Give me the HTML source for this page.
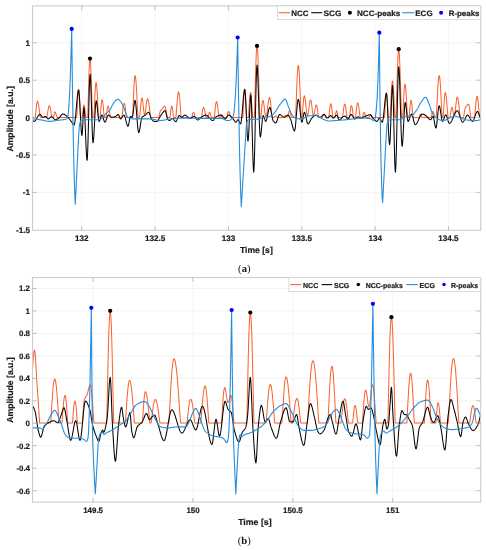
<!DOCTYPE html>
<html><head><meta charset="utf-8"><title>NCC SCG ECG</title>
<style>
html,body{margin:0;padding:0;background:#fff;}
body{width:486px;height:550px;overflow:hidden;}
svg{display:block}
.g{stroke:#f1f1f1;stroke-width:0.7}
.ax{stroke:#cdcdcd;stroke-width:1.1}
.tk{stroke:#a8a8a8;stroke-width:0.7}
.t{font-family:"Liberation Sans",sans-serif;font-weight:bold;font-size:7.3px;fill:#1c1c1c;text-rendering:geometricPrecision;stroke:#1c1c1c;stroke-width:0.2px}
.cap{font-family:"Liberation Serif",serif;font-size:9.5px;fill:#111;text-rendering:geometricPrecision}
</style></head><body>
<svg width="486" height="550" viewBox="0 0 486 550">
<rect width="486" height="550" fill="#fff"/>
<clipPath id="c1"><rect x="32.5" y="5.85" width="448.2" height="224.45000000000002"/></clipPath>
<line x1="81.7" y1="5.85" x2="81.7" y2="230.3" class="g"/>
<line x1="155.06" y1="5.85" x2="155.06" y2="230.3" class="g"/>
<line x1="228.42000000000002" y1="5.85" x2="228.42000000000002" y2="230.3" class="g"/>
<line x1="301.78" y1="5.85" x2="301.78" y2="230.3" class="g"/>
<line x1="375.14" y1="5.85" x2="375.14" y2="230.3" class="g"/>
<line x1="448.5" y1="5.85" x2="448.5" y2="230.3" class="g"/>
<line x1="32.5" y1="42.8" x2="480.7" y2="42.8" class="g"/>
<line x1="32.5" y1="80.2" x2="480.7" y2="80.2" class="g"/>
<line x1="32.5" y1="117.6" x2="480.7" y2="117.6" class="g"/>
<line x1="32.5" y1="155" x2="480.7" y2="155" class="g"/>
<line x1="32.5" y1="192.4" x2="480.7" y2="192.4" class="g"/>
<g clip-path="url(#c1)" fill="none" stroke-linejoin="round" stroke-linecap="round">
<path d="M32.50,117.40 L35.19,117.40 L35.44,116.08 L35.68,113.76 L35.93,111.11 L36.17,108.48 L36.42,106.08 L36.66,104.07 L36.91,102.55 L37.15,101.62 L37.40,101.30 L37.63,101.45 L37.87,101.91 L38.10,102.65 L38.33,103.67 L38.57,104.94 L38.80,106.43 L39.03,108.09 L39.27,109.88 L39.50,111.73 L39.74,113.56 L39.97,115.25 L40.20,116.64 L40.44,117.40 L46.73,117.40 L46.97,116.69 L47.22,115.41 L47.46,113.89 L47.70,112.30 L47.94,110.75 L48.19,109.32 L48.43,108.08 L48.67,107.06 L48.91,106.31 L49.16,105.85 L49.40,105.70 L49.63,105.85 L49.87,106.31 L50.10,107.06 L50.34,108.08 L50.57,109.32 L50.81,110.75 L51.04,112.30 L51.27,113.89 L51.51,115.41 L51.74,116.69 L51.98,117.40 L53.44,117.40 L53.66,116.75 L53.88,115.68 L54.11,114.53 L54.33,113.50 L54.55,112.69 L54.78,112.18 L55.00,112.00 L55.22,112.11 L55.45,112.42 L55.67,112.93 L55.90,113.60 L56.12,114.41 L56.35,115.29 L56.57,116.18 L56.80,116.96 L57.02,117.40 L76.67,117.40 L76.91,114.71 L77.15,110.10 L77.39,105.00 L77.63,100.11 L77.88,95.90 L78.12,92.69 L78.36,90.68 L78.60,90.00 L78.82,90.54 L79.05,92.13 L79.27,94.71 L79.50,98.13 L79.72,102.22 L79.95,106.70 L80.17,111.20 L80.40,115.15 L80.62,117.40 L82.16,117.40 L82.39,116.18 L82.62,114.10 L82.85,111.79 L83.08,109.57 L83.31,107.67 L83.54,106.22 L83.77,105.31 L84.00,105.00 L84.23,105.31 L84.46,106.22 L84.69,107.67 L84.92,109.57 L85.15,111.79 L85.38,114.10 L85.61,116.18 L85.84,117.40 L87.61,117.40 L87.85,113.28 L88.09,105.93 L88.33,97.38 L88.56,88.61 L88.80,80.29 L89.04,72.91 L89.28,66.84 L89.52,62.32 L89.76,59.54 L90.00,58.60 L90.23,59.38 L90.47,61.68 L90.70,65.44 L90.94,70.54 L91.17,76.80 L91.41,83.98 L91.64,91.78 L91.87,99.77 L92.11,107.40 L92.34,113.83 L92.58,117.40 L93.80,117.40 L94.03,114.94 L94.26,110.57 L94.49,105.48 L94.72,100.26 L94.95,95.31 L95.18,90.92 L95.41,87.30 L95.64,84.61 L95.87,82.96 L96.10,82.40 L96.35,82.96 L96.60,84.61 L96.85,87.30 L97.09,90.92 L97.34,95.31 L97.59,100.26 L97.84,105.48 L98.09,110.57 L98.34,114.94 L98.58,117.40 L99.98,117.40 L100.22,115.94 L100.45,113.39 L100.69,110.49 L100.92,107.59 L101.16,104.95 L101.39,102.74 L101.63,101.08 L101.86,100.05 L102.10,99.70 L102.35,100.05 L102.59,101.08 L102.84,102.74 L103.08,104.95 L103.33,107.59 L103.57,110.49 L103.82,113.39 L104.06,115.94 L104.31,117.40 L105.98,117.40 L106.22,116.48 L106.45,114.87 L106.69,113.03 L106.92,111.19 L107.16,109.52 L107.39,108.12 L107.63,107.07 L107.86,106.42 L108.10,106.20 L108.35,106.38 L108.60,106.91 L108.85,107.77 L109.09,108.93 L109.34,110.33 L109.59,111.92 L109.84,113.59 L110.09,115.22 L110.34,116.61 L110.58,117.40 L121.72,117.40 L121.96,116.54 L122.19,115.00 L122.43,113.17 L122.66,111.26 L122.89,109.39 L123.13,107.66 L123.36,106.16 L123.60,104.94 L123.83,104.04 L124.07,103.49 L124.30,103.30 L124.55,103.58 L124.79,104.40 L125.04,105.72 L125.28,107.48 L125.53,109.59 L125.77,111.89 L126.02,114.21 L126.26,116.24 L126.51,117.40 L132.43,117.40 L132.67,114.86 L132.92,110.29 L133.16,104.87 L133.40,99.18 L133.64,93.64 L133.89,88.54 L134.13,84.09 L134.37,80.46 L134.61,77.79 L134.86,76.15 L135.10,75.60 L135.33,76.00 L135.57,77.17 L135.80,79.10 L136.03,81.75 L136.27,85.05 L136.50,88.91 L136.73,93.23 L136.97,97.88 L137.20,102.69 L137.44,107.43 L137.67,111.82 L137.90,115.44 L138.14,117.40 L139.52,117.40 L139.76,116.04 L140.01,113.62 L140.26,110.79 L140.51,107.90 L140.76,105.16 L141.01,102.72 L141.25,100.72 L141.50,99.23 L141.75,98.31 L142.00,98.00 L142.24,98.34 L142.47,99.33 L142.71,100.90 L142.95,102.91 L143.18,105.20 L143.42,107.60 L143.65,109.89 L143.89,111.90 L144.13,113.47 L144.36,114.46 L144.60,114.80 L144.84,114.53 L145.08,113.72 L145.32,112.44 L145.57,110.78 L145.81,108.83 L146.05,106.75 L146.29,104.67 L146.53,102.73 L146.78,101.06 L147.02,99.78 L147.26,98.97 L147.50,98.70 L147.74,98.85 L147.97,99.31 L148.21,100.05 L148.45,101.08 L148.68,102.37 L148.92,103.88 L149.16,105.60 L149.39,107.47 L149.63,109.43 L149.87,111.43 L150.10,113.38 L150.34,115.16 L150.58,116.62 L150.81,117.40 L158.70,117.40 L158.93,116.87 L159.16,115.94 L159.39,114.85 L159.62,113.73 L159.85,112.67 L160.08,111.73 L160.31,110.95 L160.54,110.37 L160.77,110.02 L161.00,109.90 L161.24,109.86 L161.48,109.74 L161.72,109.54 L161.96,109.27 L162.20,108.95 L162.44,108.59 L162.68,108.20 L162.92,107.80 L163.16,107.41 L163.40,107.05 L163.64,106.73 L163.88,106.46 L164.12,106.26 L164.36,106.14 L164.60,106.10 L164.83,106.23 L165.06,106.60 L165.29,107.21 L165.52,108.04 L165.75,109.07 L165.98,110.27 L166.21,111.59 L166.44,112.99 L166.67,114.39 L166.90,115.70 L167.13,116.80 L167.36,117.40 L169.95,117.40 L170.20,116.05 L170.45,113.79 L170.70,111.40 L170.95,109.23 L171.20,107.54 L171.45,106.47 L171.70,106.10 L171.94,106.38 L172.18,107.21 L172.42,108.53 L172.67,110.27 L172.91,112.28 L173.15,114.39 L173.39,116.29 L173.63,117.40 L175.75,117.40 L175.99,116.06 L176.22,113.60 L176.46,110.66 L176.70,107.52 L176.94,104.40 L177.17,101.43 L177.41,98.75 L177.65,96.45 L177.89,94.58 L178.12,93.22 L178.36,92.38 L178.60,92.10 L178.83,92.38 L179.06,93.22 L179.29,94.58 L179.52,96.45 L179.75,98.75 L179.98,101.43 L180.21,104.40 L180.44,107.52 L180.67,110.66 L180.90,113.60 L181.13,116.06 L181.36,117.40 L191.66,117.40 L191.89,116.90 L192.12,116.04 L192.35,115.09 L192.58,114.18 L192.81,113.40 L193.04,112.80 L193.27,112.43 L193.50,112.30 L193.74,112.43 L193.98,112.80 L194.22,113.40 L194.47,114.18 L194.71,115.09 L194.95,116.04 L195.19,116.90 L195.43,117.40 L201.38,117.40 L201.62,116.58 L201.85,115.14 L202.09,113.50 L202.32,111.86 L202.56,110.37 L202.79,109.12 L203.03,108.18 L203.26,107.60 L203.50,107.40 L203.73,107.53 L203.97,107.92 L204.20,108.56 L204.44,109.43 L204.67,110.49 L204.91,111.72 L205.14,113.04 L205.37,114.40 L205.61,115.70 L205.84,116.79 L206.08,117.40 L207.94,117.40 L208.18,116.79 L208.42,115.77 L208.65,114.69 L208.89,113.71 L209.13,112.95 L209.36,112.47 L209.60,112.30 L209.84,112.47 L210.07,112.95 L210.31,113.71 L210.55,114.69 L210.78,115.77 L211.02,116.79 L211.26,117.40 L214.20,117.40 L214.43,116.29 L214.66,114.32 L214.89,112.02 L215.12,109.66 L215.35,107.43 L215.58,105.45 L215.81,103.81 L216.04,102.60 L216.27,101.85 L216.50,101.60 L216.75,101.85 L217.00,102.60 L217.25,103.81 L217.49,105.45 L217.74,107.43 L217.99,109.66 L218.24,112.02 L218.49,114.32 L218.74,116.29 L218.98,117.40 L219.89,117.40 L220.09,116.85 L220.29,116.03 L220.50,115.28 L220.70,114.78 L220.90,114.60 L221.10,114.78 L221.30,115.28 L221.51,116.03 L221.71,116.85 L221.91,117.40 L226.58,117.40 L226.80,116.91 L227.03,116.06 L227.25,115.10 L227.48,114.13 L227.70,113.25 L227.93,112.51 L228.15,111.96 L228.38,111.62 L228.60,111.50 L228.85,111.62 L229.09,111.96 L229.34,112.51 L229.58,113.25 L229.83,114.13 L230.07,115.10 L230.32,116.06 L230.56,116.91 L230.81,117.40 L242.77,117.40 L243.01,114.66 L243.25,109.97 L243.49,104.77 L243.73,99.79 L243.98,95.51 L244.22,92.24 L244.46,90.19 L244.70,89.50 L244.92,90.05 L245.15,91.67 L245.37,94.29 L245.60,97.78 L245.82,101.94 L246.05,106.51 L246.27,111.09 L246.50,115.11 L246.72,117.40 L248.38,117.40 L248.62,115.34 L248.85,111.74 L249.09,107.64 L249.32,103.55 L249.56,99.82 L249.79,96.69 L250.03,94.35 L250.26,92.89 L250.50,92.40 L250.74,92.89 L250.97,94.35 L251.21,96.69 L251.44,99.82 L251.68,103.55 L251.91,107.64 L252.15,111.74 L252.38,115.34 L252.62,117.40 L254.24,117.40 L254.47,113.60 L254.70,106.67 L254.93,98.35 L255.16,89.48 L255.39,80.65 L255.62,72.28 L255.85,64.70 L256.08,58.18 L256.31,52.91 L256.54,49.05 L256.77,46.69 L257.00,45.90 L257.25,46.69 L257.49,49.05 L257.74,52.91 L257.98,58.18 L258.23,64.70 L258.47,72.28 L258.72,80.65 L258.96,89.48 L259.21,98.35 L259.45,106.67 L259.70,113.60 L259.94,117.40 L260.78,117.40 L261.02,115.99 L261.25,113.53 L261.49,110.72 L261.72,107.93 L261.96,105.38 L262.19,103.24 L262.43,101.63 L262.66,100.64 L262.90,100.30 L263.13,100.54 L263.36,101.23 L263.59,102.35 L263.82,103.82 L264.05,105.56 L264.28,107.47 L264.52,109.43 L264.75,111.34 L264.98,113.08 L265.21,114.55 L265.44,115.67 L265.67,116.36 L265.90,116.60 L266.14,116.39 L266.38,115.77 L266.62,114.78 L266.86,113.44 L267.10,111.83 L267.34,110.00 L267.58,108.05 L267.82,106.05 L268.06,104.10 L268.30,102.28 L268.54,100.66 L268.78,99.32 L269.02,98.33 L269.26,97.71 L269.50,97.50 L269.74,97.76 L269.99,98.54 L270.23,99.81 L270.47,101.54 L270.71,103.66 L270.96,106.09 L271.20,108.73 L271.44,111.43 L271.68,114.01 L271.93,116.19 L272.17,117.40 L274.13,117.40 L274.37,117.19 L274.62,116.85 L274.86,116.52 L275.11,116.24 L275.35,116.06 L275.60,116.00 L275.85,116.06 L276.09,116.24 L276.34,116.52 L276.58,116.85 L276.83,117.19 L277.07,117.40 L283.65,117.40 L283.90,117.18 L284.15,116.83 L284.40,116.44 L284.65,116.10 L284.90,115.83 L285.15,115.66 L285.40,115.60 L285.64,115.65 L285.88,115.81 L286.11,116.03 L286.35,116.30 L286.59,116.57 L286.82,116.79 L287.06,116.95 L287.30,117.00 L287.53,116.85 L287.76,116.40 L287.99,115.70 L288.22,114.82 L288.45,113.85 L288.68,112.88 L288.91,112.00 L289.14,111.30 L289.37,110.85 L289.60,110.70 L289.83,110.87 L290.06,111.36 L290.29,112.14 L290.52,113.17 L290.75,114.37 L290.98,115.61 L291.21,116.74 L291.44,117.40 L295.45,117.40 L295.69,114.64 L295.92,109.60 L296.16,103.55 L296.40,97.10 L296.64,90.67 L296.87,84.58 L297.11,79.07 L297.35,74.33 L297.59,70.50 L297.82,67.69 L298.06,65.98 L298.30,65.40 L298.55,65.98 L298.79,67.69 L299.04,70.50 L299.28,74.33 L299.53,79.07 L299.77,84.58 L300.02,90.67 L300.26,97.10 L300.51,103.55 L300.75,109.60 L301.00,114.64 L301.24,117.40 L302.01,117.40 L302.25,115.89 L302.49,113.21 L302.73,110.08 L302.96,106.87 L303.20,103.83 L303.44,101.13 L303.68,98.91 L303.92,97.26 L304.16,96.24 L304.40,95.90 L304.63,96.19 L304.86,97.03 L305.09,98.38 L305.32,100.15 L305.55,102.26 L305.78,104.56 L306.02,106.94 L306.25,109.24 L306.48,111.35 L306.71,113.12 L306.94,114.47 L307.17,115.31 L307.40,115.60 L307.65,115.37 L307.89,114.71 L308.14,113.64 L308.38,112.23 L308.63,110.57 L308.88,108.74 L309.12,106.86 L309.37,105.03 L309.62,103.37 L309.86,101.96 L310.11,100.89 L310.35,100.23 L310.60,100.00 L310.84,100.27 L311.08,101.05 L311.33,102.28 L311.57,103.90 L311.81,105.78 L312.05,107.80 L312.29,109.82 L312.53,111.70 L312.77,113.32 L313.02,114.55 L313.26,115.33 L313.50,115.60 L313.75,115.38 L313.99,114.75 L314.24,113.75 L314.48,112.47 L314.73,111.01 L314.97,109.49 L315.22,108.03 L315.46,106.75 L315.71,105.75 L315.95,105.12 L316.20,104.90 L316.43,105.06 L316.67,105.55 L316.90,106.35 L317.14,107.44 L317.37,108.77 L317.61,110.30 L317.84,111.95 L318.07,113.65 L318.31,115.27 L318.54,116.64 L318.78,117.40 L322.44,117.40 L322.68,116.99 L322.92,116.31 L323.15,115.59 L323.39,114.94 L323.63,114.43 L323.86,114.11 L324.10,114.00 L324.35,114.11 L324.60,114.43 L324.85,114.94 L325.10,115.59 L325.35,116.31 L325.60,116.99 L325.85,117.40 L328.68,117.40 L328.90,116.28 L329.13,114.32 L329.35,112.09 L329.58,109.87 L329.80,107.84 L330.03,106.14 L330.25,104.86 L330.48,104.07 L330.70,103.80 L330.93,104.02 L331.16,104.66 L331.39,105.70 L331.62,107.11 L331.85,108.82 L332.08,110.74 L332.31,112.77 L332.54,114.75 L332.77,116.45 L333.00,117.40 L334.94,117.40 L335.18,116.60 L335.42,115.26 L335.65,113.84 L335.89,112.56 L336.13,111.55 L336.36,110.92 L336.60,110.70 L336.84,110.92 L337.07,111.55 L337.31,112.56 L337.55,113.84 L337.78,115.26 L338.02,116.60 L338.26,117.40 L342.41,117.40 L342.65,116.47 L342.89,114.81 L343.13,112.87 L343.36,110.89 L343.60,109.01 L343.84,107.34 L344.08,105.96 L344.32,104.94 L344.56,104.31 L344.80,104.10 L345.04,104.31 L345.28,104.94 L345.52,105.96 L345.76,107.34 L346.00,109.01 L346.24,110.89 L346.47,112.87 L346.71,114.81 L346.95,116.47 L347.19,117.40 L349.38,117.40 L349.60,116.44 L349.83,114.75 L350.05,112.83 L350.28,110.92 L350.50,109.17 L350.73,107.71 L350.95,106.61 L351.18,105.93 L351.40,105.70 L351.65,105.93 L351.89,106.61 L352.14,107.71 L352.38,109.17 L352.63,110.92 L352.87,112.83 L353.12,114.75 L353.36,116.44 L353.61,117.40 L355.40,117.40 L355.63,116.39 L355.86,114.59 L356.09,112.50 L356.32,110.35 L356.55,108.31 L356.78,106.51 L357.01,105.02 L357.24,103.91 L357.47,103.23 L357.70,103.00 L357.95,103.23 L358.20,103.91 L358.45,105.02 L358.69,106.51 L358.94,108.31 L359.19,110.35 L359.44,112.50 L359.69,114.59 L359.94,116.39 L360.18,117.40 L362.35,117.40 L362.60,116.79 L362.85,115.77 L363.10,114.69 L363.35,113.71 L363.60,112.95 L363.85,112.47 L364.10,112.30 L364.35,112.47 L364.60,112.95 L364.85,113.71 L365.10,114.69 L365.35,115.77 L365.60,116.79 L365.85,117.40 L368.92,117.40 L369.15,116.99 L369.38,116.35 L369.61,115.70 L369.84,115.16 L370.07,114.82 L370.30,114.70 L370.53,114.82 L370.76,115.16 L370.99,115.70 L371.22,116.35 L371.45,116.99 L371.68,117.40 L384.38,117.40 L384.60,115.39 L384.83,111.88 L385.05,107.87 L385.28,103.88 L385.50,100.24 L385.73,97.19 L385.95,94.90 L386.18,93.48 L386.40,93.00 L386.62,93.48 L386.85,94.90 L387.07,97.19 L387.30,100.24 L387.52,103.88 L387.75,107.87 L387.97,111.88 L388.20,115.39 L388.42,117.40 L390.02,117.40 L390.26,114.85 L390.51,110.30 L390.76,105.01 L391.01,99.58 L391.26,94.43 L391.51,89.86 L391.75,86.10 L392.00,83.30 L392.25,81.58 L392.50,81.00 L392.75,81.58 L393.00,83.30 L393.25,86.10 L393.49,89.86 L393.74,94.43 L393.99,99.58 L394.24,105.01 L394.49,110.30 L394.74,114.85 L394.98,117.40 L395.85,117.40 L396.09,113.78 L396.32,107.17 L396.56,99.23 L396.80,90.77 L397.04,82.34 L397.27,74.36 L397.51,67.13 L397.75,60.91 L397.99,55.89 L398.22,52.21 L398.46,49.96 L398.70,49.20 L398.95,49.96 L399.19,52.21 L399.44,55.89 L399.68,60.91 L399.93,67.13 L400.17,74.36 L400.42,82.34 L400.66,90.77 L400.91,99.23 L401.15,107.17 L401.40,113.78 L401.64,117.40 L402.61,117.40 L402.85,115.07 L403.09,110.93 L403.33,106.10 L403.56,101.14 L403.80,96.45 L404.04,92.28 L404.28,88.85 L404.52,86.30 L404.76,84.73 L405.00,84.20 L405.23,84.64 L405.47,85.94 L405.70,88.06 L405.94,90.94 L406.17,94.47 L406.41,98.53 L406.64,102.93 L406.87,107.44 L407.11,111.75 L407.34,115.39 L407.58,117.40 L408.98,117.40 L409.22,115.99 L409.45,113.53 L409.69,110.72 L409.92,107.93 L410.16,105.38 L410.39,103.24 L410.63,101.63 L410.86,100.64 L411.10,100.30 L411.32,100.64 L411.55,101.63 L411.77,103.24 L412.00,105.38 L412.22,107.93 L412.45,110.72 L412.67,113.53 L412.90,115.99 L413.12,117.40 L419.13,117.40 L419.37,116.92 L419.62,116.15 L419.86,115.38 L420.11,114.75 L420.35,114.34 L420.60,114.20 L420.85,114.34 L421.09,114.75 L421.34,115.38 L421.58,116.15 L421.83,116.92 L422.07,117.40 L431.16,117.40 L431.39,116.82 L431.62,115.83 L431.85,114.73 L432.08,113.68 L432.31,112.77 L432.54,112.08 L432.77,111.65 L433.00,111.50 L433.23,111.65 L433.46,112.08 L433.69,112.77 L433.92,113.68 L434.15,114.73 L434.38,115.83 L434.61,116.82 L434.84,117.40 L436.07,117.40 L436.31,115.44 L436.55,111.82 L436.79,107.43 L437.03,102.69 L437.28,97.88 L437.52,93.23 L437.76,88.91 L438.00,85.05 L438.24,81.75 L438.48,79.10 L438.72,77.17 L438.96,76.00 L439.20,75.60 L439.43,76.00 L439.67,77.17 L439.90,79.10 L440.13,81.75 L440.37,85.05 L440.60,88.91 L440.83,93.23 L441.07,97.88 L441.30,102.69 L441.54,107.43 L441.77,111.82 L442.00,115.44 L442.24,117.40 L443.00,117.40 L443.23,115.66 L443.46,112.56 L443.69,108.96 L443.92,105.26 L444.15,101.75 L444.38,98.64 L444.61,96.07 L444.84,94.17 L445.07,93.00 L445.30,92.60 L445.54,92.87 L445.78,93.69 L446.01,95.03 L446.25,96.86 L446.49,99.12 L446.73,101.75 L446.96,104.65 L447.20,107.72 L447.44,110.79 L447.68,113.68 L447.91,116.08 L448.15,117.40 L449.97,117.40 L450.21,116.42 L450.45,114.74 L450.69,112.87 L450.93,111.09 L451.18,109.55 L451.42,108.38 L451.66,107.65 L451.90,107.40 L452.13,107.60 L452.36,108.18 L452.59,109.09 L452.82,110.23 L453.05,111.50 L453.28,112.77 L453.51,113.91 L453.74,114.82 L453.97,115.40 L454.20,115.60 L454.44,115.33 L454.68,114.53 L454.92,113.26 L455.15,111.58 L455.39,109.60 L455.63,107.42 L455.87,105.18 L456.11,103.00 L456.35,101.02 L456.58,99.34 L456.82,98.07 L457.06,97.27 L457.30,97.00 L457.53,97.19 L457.77,97.77 L458.00,98.71 L458.23,100.00 L458.47,101.61 L458.70,103.49 L458.93,105.60 L459.17,107.87 L459.40,110.22 L459.64,112.53 L459.87,114.68 L460.10,116.44 L460.34,117.40 L463.42,117.40 L463.66,116.64 L463.91,115.29 L464.16,113.72 L464.41,112.11 L464.66,110.58 L464.91,109.23 L465.15,108.11 L465.40,107.28 L465.65,106.77 L465.90,106.60 L466.13,106.55 L466.35,106.40 L466.58,106.17 L466.81,105.87 L467.04,105.53 L467.26,105.17 L467.49,104.83 L467.72,104.53 L467.95,104.30 L468.17,104.15 L468.40,104.10 L468.63,104.28 L468.87,104.80 L469.10,105.65 L469.34,106.80 L469.57,108.22 L469.81,109.84 L470.04,111.60 L470.27,113.41 L470.51,115.14 L470.74,116.59 L470.98,117.40 L474.52,117.40 L474.76,116.13 L474.99,113.83 L475.23,111.10 L475.46,108.25 L475.69,105.46 L475.93,102.90 L476.16,100.66 L476.40,98.84 L476.63,97.50 L476.87,96.68 L477.10,96.40 L477.33,96.68 L477.57,97.50 L477.80,98.84 L478.04,100.66 L478.27,102.90 L478.51,105.46 L478.74,108.25 L478.97,111.10 L479.21,113.83 L479.44,116.13 L479.68,117.40 L480.70,117.40" stroke="#F9622E" stroke-width="1.02"/>
<path d="M32.50,119.70 L32.90,120.31 L33.30,120.86 L33.70,121.25 L34.10,121.40 L34.10,121.40 L34.50,121.31 L34.90,121.04 L35.30,120.63 L35.70,120.11 L36.10,119.50 L36.50,118.83 L36.90,118.12 L37.30,117.41 L37.70,116.72 L38.10,116.08 L38.50,115.51 L38.90,115.04 L39.30,114.70 L39.70,114.52 L39.90,114.50 L40.11,114.53 L40.51,114.75 L40.91,115.12 L41.31,115.59 L41.71,116.10 L42.11,116.58 L42.51,116.98 L42.91,117.24 L43.20,117.30 L43.31,117.29 L43.71,117.20 L44.11,117.01 L44.51,116.79 L44.91,116.58 L45.31,116.44 L45.60,116.40 L45.71,116.41 L46.11,116.67 L46.51,117.15 L46.91,117.74 L47.31,118.31 L47.71,118.74 L48.10,118.90 L48.11,118.90 L48.51,118.81 L48.91,118.58 L49.31,118.26 L49.71,117.89 L50.11,117.51 L50.51,117.17 L50.91,116.92 L51.31,116.80 L51.40,116.80 L51.71,116.85 L52.11,117.03 L52.51,117.33 L52.91,117.69 L53.31,118.11 L53.71,118.53 L54.11,118.93 L54.51,119.28 L54.91,119.54 L55.32,119.68 L55.50,119.70 L55.72,119.69 L56.12,119.61 L56.52,119.48 L56.92,119.29 L57.32,119.07 L57.72,118.82 L58.12,118.55 L58.52,118.29 L58.80,118.10 L58.92,118.02 L59.32,117.67 L59.72,117.22 L60.12,116.71 L60.52,116.17 L60.92,115.63 L61.32,115.12 L61.72,114.67 L62.12,114.31 L62.52,114.08 L62.90,114.00 L62.92,114.00 L63.32,114.04 L63.72,114.15 L64.12,114.31 L64.52,114.53 L64.92,114.78 L65.32,115.06 L65.72,115.37 L66.12,115.69 L66.52,116.02 L66.92,116.34 L67.00,116.40 L67.32,116.67 L67.72,117.06 L68.12,117.49 L68.52,117.95 L68.92,118.45 L69.32,118.96 L69.72,119.49 L70.13,120.02 L70.53,120.55 L70.93,121.06 L71.20,121.40 L71.33,121.56 L71.73,122.14 L72.13,122.79 L72.53,123.45 L72.93,124.05 L73.33,124.55 L73.73,124.89 L74.10,125.00 L74.13,125.00 L74.53,124.10 L74.93,121.86 L75.33,118.56 L75.73,114.50 L76.13,109.98 L76.53,105.30 L76.93,100.75 L77.33,96.63 L77.73,93.24 L78.13,90.87 L78.53,89.82 L78.60,89.80 L78.93,91.08 L79.33,95.53 L79.73,102.21 L80.13,110.16 L80.53,118.39 L80.93,125.94 L81.33,131.82 L81.73,135.06 L81.90,135.40 L82.13,134.44 L82.53,129.29 L82.93,121.73 L83.33,114.06 L83.73,108.63 L84.00,107.40 L84.13,107.69 L84.53,111.58 L84.94,118.94 L85.34,128.39 L85.74,138.58 L86.14,148.13 L86.54,155.69 L86.94,159.87 L87.10,160.30 L87.34,158.78 L87.74,150.30 L88.14,136.54 L88.54,119.94 L88.94,102.96 L89.34,88.04 L89.74,77.65 L90.10,74.20 L90.14,74.24 L90.54,78.44 L90.94,88.11 L91.34,101.08 L91.74,115.19 L92.14,128.28 L92.54,138.17 L92.94,142.71 L93.00,142.80 L93.34,141.47 L93.74,137.09 L94.14,130.58 L94.54,122.95 L94.94,115.17 L95.34,108.24 L95.74,103.13 L96.14,100.84 L96.20,100.80 L96.54,101.60 L96.94,104.16 L97.34,107.88 L97.74,112.10 L98.14,116.16 L98.54,119.42 L98.94,121.23 L99.10,121.40 L99.34,121.26 L99.74,120.55 L100.15,119.42 L100.55,118.10 L100.95,116.80 L101.35,115.74 L101.75,115.15 L101.90,115.10 L102.15,115.24 L102.55,115.95 L102.95,117.09 L103.35,118.46 L103.75,119.86 L104.15,121.09 L104.55,121.93 L104.90,122.20 L104.95,122.20 L105.35,121.88 L105.75,121.15 L106.15,120.13 L106.55,118.96 L106.95,117.75 L107.35,116.63 L107.75,115.74 L108.15,115.20 L108.40,115.10 L108.55,115.11 L108.95,115.27 L109.35,115.57 L109.75,115.95 L110.15,116.36 L110.55,116.75 L110.95,117.07 L111.35,117.26 L111.60,117.30 L111.75,117.30 L112.15,117.28 L112.55,117.25 L112.95,117.20 L113.35,117.14 L113.75,117.06 L114.15,116.98 L114.55,116.88 L114.90,116.80 L114.96,116.78 L115.36,116.60 L115.76,116.30 L116.16,115.93 L116.56,115.54 L116.96,115.16 L117.36,114.83 L117.76,114.60 L118.16,114.50 L118.20,114.50 L118.56,114.76 L118.96,115.54 L119.36,116.58 L119.76,117.66 L120.16,118.51 L120.56,118.90 L120.60,118.90 L120.96,118.77 L121.36,118.39 L121.76,117.82 L122.16,117.16 L122.56,116.47 L122.96,115.85 L123.36,115.37 L123.76,115.12 L123.90,115.10 L124.16,115.23 L124.56,115.88 L124.96,116.96 L125.36,118.36 L125.76,119.93 L126.16,121.57 L126.56,123.14 L126.96,124.51 L127.36,125.57 L127.76,126.19 L128.00,126.30 L128.16,126.18 L128.56,125.01 L128.96,123.02 L129.36,120.67 L129.77,118.46 L130.17,116.88 L130.50,116.40 L130.57,116.40 L130.97,116.57 L131.37,116.86 L131.77,117.15 L132.17,117.30 L132.20,117.30 L132.57,116.50 L132.97,114.17 L133.37,110.90 L133.77,107.28 L134.17,103.91 L134.57,101.39 L134.97,100.31 L135.00,100.30 L135.37,101.20 L135.77,103.91 L136.17,107.94 L136.57,112.81 L136.97,118.02 L137.37,123.08 L137.77,127.51 L138.17,130.81 L138.57,132.48 L138.70,132.60 L138.97,132.33 L139.37,131.08 L139.77,129.08 L140.17,126.61 L140.57,123.95 L140.97,121.39 L141.37,119.23 L141.77,117.74 L142.00,117.30 L142.17,117.11 L142.57,116.73 L142.97,116.43 L143.37,116.18 L143.77,115.96 L144.17,115.76 L144.57,115.56 L144.98,115.32 L145.30,115.10 L145.38,115.04 L145.78,114.68 L146.18,114.26 L146.58,113.81 L146.98,113.36 L147.38,112.96 L147.78,112.62 L148.18,112.39 L148.58,112.30 L148.60,112.30 L148.98,112.53 L149.38,113.20 L149.78,114.18 L150.18,115.36 L150.58,116.61 L150.98,117.81 L151.38,118.83 L151.78,119.56 L151.90,119.70 L152.18,119.98 L152.58,120.38 L152.98,120.73 L153.38,121.03 L153.78,121.26 L154.18,121.38 L154.40,121.40 L154.58,121.40 L154.98,121.40 L155.38,121.40 L155.78,121.40 L156.18,121.40 L156.58,121.40 L156.90,121.40 L156.98,121.39 L157.38,121.22 L157.78,120.84 L158.18,120.28 L158.58,119.60 L158.98,118.83 L159.38,118.01 L159.79,117.19 L160.19,116.41 L160.59,115.70 L160.99,115.12 L161.00,115.10 L161.39,114.59 L161.79,114.03 L162.19,113.45 L162.59,112.88 L162.99,112.33 L163.39,111.84 L163.79,111.40 L164.19,111.06 L164.59,110.82 L164.99,110.71 L165.10,110.70 L165.39,110.96 L165.79,112.04 L166.19,113.65 L166.59,115.47 L166.99,117.20 L167.39,118.50 L167.60,118.90 L167.79,119.16 L168.19,119.68 L168.59,120.12 L168.99,120.44 L169.39,120.59 L169.50,120.60 L169.79,120.54 L170.19,120.30 L170.59,119.94 L170.99,119.51 L171.39,119.08 L171.79,118.71 L172.19,118.46 L172.50,118.40 L172.59,118.41 L172.99,118.60 L173.39,119.00 L173.79,119.52 L174.19,120.12 L174.60,120.70 L175.00,121.21 L175.40,121.56 L175.80,121.70 L175.80,121.70 L176.20,121.46 L176.60,120.81 L177.00,119.88 L177.40,118.80 L177.80,117.70 L178.20,116.72 L178.60,115.98 L179.00,115.62 L179.10,115.60 L179.40,115.67 L179.80,115.95 L180.20,116.34 L180.60,116.76 L181.00,117.11 L181.40,117.29 L181.50,117.30 L181.80,117.25 L182.20,117.07 L182.60,116.78 L183.00,116.43 L183.40,116.06 L183.80,115.70 L184.20,115.39 L184.60,115.18 L185.00,115.10 L185.00,115.10 L185.40,115.16 L185.80,115.34 L186.20,115.60 L186.60,115.93 L187.00,116.30 L187.40,116.70 L187.80,117.10 L188.20,117.49 L188.60,117.83 L189.00,118.11 L189.40,118.31 L189.81,118.40 L189.90,118.40 L190.21,118.37 L190.61,118.24 L191.01,118.04 L191.41,117.79 L191.81,117.50 L192.21,117.21 L192.61,116.94 L193.01,116.69 L193.41,116.51 L193.81,116.41 L194.00,116.40 L194.21,116.43 L194.61,116.65 L195.01,117.03 L195.41,117.52 L195.81,118.07 L196.21,118.64 L196.61,119.16 L197.01,119.60 L197.41,119.89 L197.80,120.00 L197.81,120.00 L198.21,119.90 L198.61,119.65 L199.01,119.30 L199.41,118.89 L199.81,118.47 L200.21,118.09 L200.60,117.80 L200.61,117.79 L201.01,117.54 L201.41,117.29 L201.81,117.03 L202.21,116.77 L202.61,116.51 L203.01,116.27 L203.41,116.04 L203.81,115.82 L204.21,115.63 L204.62,115.45 L205.02,115.31 L205.42,115.20 L205.82,115.13 L206.22,115.10 L206.30,115.10 L206.62,115.17 L207.02,115.42 L207.42,115.79 L207.82,116.24 L208.22,116.71 L208.62,117.13 L208.80,117.30 L209.02,117.49 L209.42,117.88 L209.82,118.30 L210.22,118.72 L210.62,119.15 L211.02,119.55 L211.42,119.91 L211.82,120.21 L212.22,120.44 L212.62,120.57 L212.90,120.60 L213.02,120.58 L213.42,120.28 L213.82,119.72 L214.22,119.02 L214.62,118.29 L215.02,117.68 L215.40,117.30 L215.42,117.29 L215.82,117.04 L216.22,116.79 L216.62,116.56 L217.02,116.34 L217.42,116.14 L217.82,115.95 L218.22,115.77 L218.62,115.61 L219.02,115.47 L219.42,115.35 L219.83,115.25 L220.23,115.18 L220.63,115.13 L221.03,115.10 L221.20,115.10 L221.43,115.13 L221.83,115.34 L222.23,115.70 L222.63,116.16 L223.03,116.69 L223.43,117.25 L223.83,117.78 L224.23,118.26 L224.63,118.63 L225.03,118.85 L225.30,118.90 L225.43,118.88 L225.83,118.64 L226.23,118.17 L226.63,117.55 L227.03,116.86 L227.43,116.19 L227.83,115.62 L228.23,115.23 L228.60,115.10 L228.63,115.10 L229.03,115.16 L229.43,115.32 L229.83,115.55 L230.23,115.84 L230.63,116.17 L231.03,116.52 L231.43,116.89 L231.83,117.24 L231.90,117.30 L232.23,117.63 L232.63,118.13 L233.03,118.72 L233.43,119.35 L233.83,120.00 L234.23,120.62 L234.64,121.19 L235.04,121.66 L235.44,122.00 L235.84,122.18 L236.00,122.20 L236.24,122.09 L236.64,121.55 L237.04,120.78 L237.44,120.07 L237.84,119.71 L237.90,119.70 L238.24,119.88 L238.64,120.47 L239.04,121.31 L239.44,122.24 L239.84,123.09 L240.24,123.69 L240.60,123.90 L240.64,123.89 L241.04,122.79 L241.44,120.14 L241.84,116.32 L242.24,111.72 L242.64,106.72 L243.04,101.71 L243.44,97.08 L243.84,93.22 L244.24,90.50 L244.64,89.32 L244.70,89.30 L245.04,90.85 L245.44,95.98 L245.84,103.63 L246.24,112.68 L246.64,122.03 L247.04,130.57 L247.44,137.18 L247.84,140.76 L248.00,141.10 L248.24,140.11 L248.64,134.90 L249.04,126.63 L249.45,116.94 L249.85,107.42 L250.25,99.71 L250.65,95.40 L250.80,95.00 L251.05,96.57 L251.45,104.78 L251.85,117.88 L252.25,133.43 L252.65,148.99 L253.05,162.15 L253.45,170.45 L253.70,172.10 L253.85,171.47 L254.25,164.22 L254.65,150.66 L255.05,133.09 L255.45,113.79 L255.85,95.06 L256.25,79.18 L256.65,68.46 L257.00,65.10 L257.05,65.15 L257.45,68.75 L257.85,76.97 L258.25,88.26 L258.65,101.09 L259.05,113.91 L259.45,125.19 L259.85,133.38 L260.25,136.96 L260.30,137.00 L260.65,136.13 L261.05,133.42 L261.45,129.54 L261.85,125.16 L262.25,120.95 L262.65,117.59 L263.05,115.76 L263.20,115.60 L263.45,115.77 L263.85,116.58 L264.25,117.83 L264.66,119.21 L265.06,120.44 L265.46,121.24 L265.70,121.40 L265.86,121.34 L266.26,120.70 L266.66,119.47 L267.06,117.82 L267.46,115.89 L267.86,113.85 L268.26,111.85 L268.66,110.05 L269.06,108.61 L269.46,107.68 L269.80,107.40 L269.86,107.41 L270.26,108.01 L270.66,109.37 L271.06,111.25 L271.46,113.43 L271.86,115.68 L272.26,117.77 L272.66,119.46 L273.06,120.54 L273.10,120.60 L273.46,121.13 L273.86,121.69 L274.26,122.17 L274.66,122.57 L275.06,122.85 L275.46,122.99 L275.60,123.00 L275.86,122.90 L276.26,122.41 L276.66,121.58 L277.06,120.52 L277.46,119.33 L277.86,118.09 L278.26,116.90 L278.66,115.85 L279.06,115.05 L279.47,114.58 L279.70,114.50 L279.87,114.51 L280.27,114.65 L280.67,114.90 L281.07,115.22 L281.47,115.56 L281.87,115.88 L282.20,116.10 L282.27,116.14 L282.67,116.39 L283.07,116.66 L283.47,116.91 L283.87,117.12 L284.27,117.26 L284.60,117.30 L284.67,117.30 L285.07,117.18 L285.47,116.92 L285.87,116.57 L286.27,116.18 L286.67,115.79 L287.07,115.45 L287.47,115.20 L287.87,115.10 L287.90,115.10 L288.27,115.23 L288.67,115.64 L289.07,116.25 L289.47,117.00 L289.87,117.82 L290.27,118.65 L290.40,118.90 L290.67,119.52 L291.07,120.68 L291.47,122.08 L291.87,123.62 L292.27,125.21 L292.67,126.76 L293.07,128.19 L293.47,129.40 L293.87,130.31 L294.28,130.82 L294.50,130.90 L294.68,130.70 L295.08,128.94 L295.48,125.70 L295.88,121.44 L296.28,116.59 L296.68,111.61 L297.08,106.94 L297.48,103.02 L297.88,100.29 L298.28,99.20 L298.30,99.20 L298.68,99.91 L299.08,101.96 L299.48,104.98 L299.88,108.59 L300.28,112.41 L300.68,116.06 L301.08,119.16 L301.48,121.33 L301.88,122.20 L301.90,122.20 L302.28,121.58 L302.68,119.91 L303.08,117.66 L303.48,115.33 L303.88,113.40 L304.28,112.36 L304.40,112.30 L304.68,112.50 L305.08,113.39 L305.48,114.82 L305.88,116.58 L306.28,118.50 L306.68,120.38 L307.08,122.03 L307.48,123.25 L307.88,123.86 L308.00,123.90 L308.28,123.83 L308.68,123.50 L309.08,122.97 L309.49,122.29 L309.89,121.50 L310.29,120.67 L310.69,119.86 L311.09,119.10 L311.49,118.47 L311.80,118.10 L311.89,118.01 L312.29,117.61 L312.69,117.20 L313.09,116.80 L313.49,116.41 L313.89,116.06 L314.29,115.74 L314.69,115.48 L315.09,115.28 L315.49,115.15 L315.89,115.10 L315.90,115.10 L316.29,115.16 L316.69,115.31 L317.09,115.55 L317.49,115.84 L317.89,116.15 L318.29,116.47 L318.69,116.77 L319.09,117.02 L319.49,117.21 L319.89,117.30 L320.00,117.30 L320.29,117.26 L320.69,117.09 L321.09,116.81 L321.49,116.46 L321.89,116.06 L322.29,115.65 L322.69,115.26 L323.09,114.92 L323.49,114.67 L323.89,114.52 L324.10,114.50 L324.30,114.54 L324.70,114.81 L325.10,115.29 L325.50,115.89 L325.90,116.54 L326.30,117.16 L326.70,117.68 L327.10,118.01 L327.40,118.10 L327.50,118.09 L327.90,117.95 L328.30,117.65 L328.70,117.24 L329.10,116.80 L329.50,116.35 L329.90,115.97 L330.30,115.70 L330.70,115.60 L330.70,115.60 L331.10,115.77 L331.50,116.20 L331.90,116.78 L332.30,117.36 L332.70,117.84 L333.10,118.09 L333.20,118.10 L333.50,118.03 L333.90,117.77 L334.30,117.36 L334.70,116.86 L335.10,116.33 L335.50,115.84 L335.90,115.43 L336.30,115.16 L336.60,115.10 L336.70,115.12 L337.10,115.58 L337.50,116.47 L337.90,117.55 L338.30,118.60 L338.70,119.39 L339.10,119.70 L339.10,119.70 L339.51,119.65 L339.91,119.50 L340.31,119.28 L340.71,119.00 L341.11,118.68 L341.51,118.32 L341.91,117.94 L342.31,117.56 L342.71,117.20 L343.11,116.86 L343.51,116.57 L343.91,116.34 L344.31,116.18 L344.71,116.10 L344.80,116.10 L345.11,116.17 L345.51,116.43 L345.91,116.84 L346.31,117.32 L346.71,117.83 L347.11,118.30 L347.51,118.66 L347.91,118.87 L348.10,118.90 L348.31,118.84 L348.71,118.43 L349.11,117.74 L349.51,116.89 L349.91,116.02 L350.31,115.25 L350.71,114.70 L351.10,114.50 L351.11,114.50 L351.51,114.66 L351.91,115.07 L352.31,115.66 L352.71,116.36 L353.11,117.09 L353.51,117.78 L353.91,118.36 L354.32,118.76 L354.70,118.90 L354.72,118.90 L355.12,118.81 L355.52,118.58 L355.92,118.25 L356.32,117.88 L356.72,117.51 L357.12,117.17 L357.52,116.92 L357.92,116.80 L358.00,116.80 L358.32,116.86 L358.72,117.06 L359.12,117.35 L359.52,117.66 L359.92,117.92 L360.32,118.08 L360.50,118.10 L360.72,118.09 L361.12,118.03 L361.52,117.93 L361.92,117.79 L362.32,117.61 L362.72,117.42 L363.12,117.21 L363.52,116.99 L363.92,116.77 L364.32,116.56 L364.72,116.37 L365.12,116.20 L365.40,116.10 L365.52,116.06 L365.92,115.92 L366.32,115.78 L366.72,115.64 L367.12,115.50 L367.52,115.36 L367.92,115.23 L368.32,115.11 L368.72,115.01 L369.13,114.92 L369.53,114.85 L369.93,114.81 L370.30,114.80 L370.33,114.80 L370.73,114.94 L371.13,115.30 L371.53,115.81 L371.93,116.43 L372.33,117.10 L372.73,117.75 L373.13,118.35 L373.53,118.83 L373.60,118.90 L373.93,119.21 L374.33,119.61 L374.73,120.01 L375.13,120.39 L375.53,120.74 L375.93,121.03 L376.33,121.25 L376.73,121.37 L377.00,121.40 L377.13,121.37 L377.53,120.99 L377.93,120.30 L378.33,119.48 L378.73,118.73 L379.13,118.21 L379.40,118.10 L379.53,118.12 L379.93,118.46 L380.33,119.10 L380.73,119.90 L381.13,120.74 L381.53,121.49 L381.93,122.02 L382.30,122.20 L382.33,122.19 L382.73,121.29 L383.13,119.09 L383.53,115.89 L383.93,112.04 L384.34,107.86 L384.74,103.66 L385.14,99.77 L385.54,96.52 L385.94,94.23 L386.34,93.22 L386.40,93.20 L386.74,94.79 L387.14,100.13 L387.54,108.06 L387.94,117.40 L388.34,126.92 L388.74,135.42 L389.14,141.70 L389.54,144.54 L389.60,144.60 L389.94,142.37 L390.34,135.04 L390.74,124.40 L391.14,112.31 L391.54,100.64 L391.94,91.25 L392.34,86.02 L392.50,85.50 L392.74,87.19 L393.14,96.33 L393.54,110.98 L393.94,128.43 L394.34,145.93 L394.74,160.75 L395.14,170.17 L395.40,172.10 L395.54,171.53 L395.94,164.49 L396.34,151.21 L396.74,133.95 L397.14,114.97 L397.54,96.51 L397.94,80.84 L398.34,70.20 L398.70,66.80 L398.74,66.84 L399.15,70.53 L399.55,79.10 L399.95,90.99 L400.35,104.65 L400.75,118.52 L401.15,131.05 L401.55,140.67 L401.95,145.83 L402.10,146.30 L402.35,145.51 L402.75,141.36 L403.15,134.67 L403.55,126.56 L403.95,118.16 L404.35,110.60 L404.75,105.01 L405.15,102.53 L405.20,102.50 L405.55,103.26 L405.95,105.64 L406.35,109.06 L406.75,112.93 L407.15,116.65 L407.55,119.62 L407.95,121.26 L408.10,121.40 L408.35,121.29 L408.75,120.73 L409.15,119.80 L409.55,118.64 L409.95,117.38 L410.35,116.15 L410.75,115.09 L411.15,114.33 L411.55,114.00 L411.60,114.00 L411.95,114.29 L412.35,115.21 L412.75,116.59 L413.15,118.26 L413.55,120.04 L413.96,121.75 L414.36,123.21 L414.76,124.25 L415.16,124.70 L415.20,124.70 L415.56,124.62 L415.96,124.36 L416.36,123.94 L416.76,123.38 L417.16,122.71 L417.56,121.94 L417.96,121.11 L418.36,120.23 L418.76,119.33 L419.16,118.43 L419.56,117.55 L419.96,116.72 L420.36,115.96 L420.76,115.29 L421.16,114.74 L421.56,114.32 L421.96,114.07 L422.30,114.00 L422.36,114.00 L422.76,114.04 L423.16,114.15 L423.56,114.30 L423.96,114.50 L424.36,114.73 L424.76,114.98 L425.16,115.25 L425.56,115.53 L425.96,115.81 L426.36,116.08 L426.40,116.10 L426.76,116.38 L427.16,116.76 L427.56,117.19 L427.96,117.66 L428.36,118.13 L428.76,118.59 L429.17,118.99 L429.57,119.33 L429.97,119.57 L430.37,119.69 L430.50,119.70 L430.77,119.60 L431.17,119.12 L431.57,118.41 L431.97,117.62 L432.37,116.93 L432.77,116.48 L433.00,116.40 L433.17,116.51 L433.57,117.56 L433.97,119.42 L434.37,121.71 L434.77,124.08 L435.17,126.16 L435.57,127.58 L435.90,128.00 L435.97,127.97 L436.37,126.77 L436.77,124.17 L437.17,120.63 L437.57,116.64 L437.97,112.67 L438.37,109.21 L438.77,106.73 L439.17,105.70 L439.20,105.70 L439.57,106.25 L439.97,107.88 L440.37,110.24 L440.77,113.00 L441.17,115.83 L441.57,118.38 L441.97,120.33 L442.37,121.33 L442.50,121.40 L442.77,121.26 L443.17,120.64 L443.57,119.67 L443.98,118.49 L444.38,117.26 L444.78,116.13 L445.18,115.27 L445.58,114.83 L445.70,114.80 L445.98,114.94 L446.38,115.56 L446.78,116.56 L447.18,117.82 L447.58,119.20 L447.98,120.56 L448.38,121.79 L448.78,122.75 L449.18,123.31 L449.40,123.40 L449.58,123.38 L449.98,123.21 L450.38,122.86 L450.78,122.37 L451.18,121.76 L451.58,121.03 L451.98,120.22 L452.38,119.34 L452.78,118.41 L453.18,117.46 L453.58,116.49 L453.98,115.54 L454.38,114.62 L454.78,113.75 L455.18,112.95 L455.58,112.24 L455.98,111.64 L456.38,111.17 L456.78,110.86 L457.18,110.71 L457.30,110.70 L457.58,110.80 L457.98,111.23 L458.38,111.95 L458.79,112.90 L459.19,114.03 L459.59,115.27 L459.99,116.57 L460.39,117.86 L460.79,119.08 L461.19,120.18 L461.59,121.10 L461.99,121.77 L462.39,122.15 L462.60,122.20 L462.79,122.17 L463.19,121.93 L463.59,121.48 L463.99,120.86 L464.39,120.12 L464.79,119.31 L465.19,118.46 L465.59,117.62 L465.99,116.83 L466.39,116.15 L466.79,115.60 L467.19,115.23 L467.59,115.10 L467.60,115.10 L467.99,115.21 L468.39,115.54 L468.79,116.04 L469.19,116.66 L469.59,117.38 L469.99,118.14 L470.39,118.91 L470.79,119.64 L471.19,120.29 L471.59,120.83 L471.99,121.21 L472.39,121.39 L472.50,121.40 L472.79,121.30 L473.19,120.86 L473.59,120.14 L474.00,119.20 L474.40,118.10 L474.80,116.92 L475.20,115.71 L475.60,114.54 L476.00,113.47 L476.40,112.58 L476.80,111.91 L477.20,111.55 L477.40,111.50 L477.60,111.56 L478.00,112.03 L478.40,112.85 L478.80,113.89 L479.20,115.00 L479.60,116.07 L480.00,116.96 L480.20,117.30 L480.40,117.58 L480.80,118.08 L481.20,118.50" stroke="#050505" stroke-width="1.05"/>
<path d="M32.50,118.90 L32.90,118.93 L33.30,118.96 L33.70,119.00 L34.10,119.03 L34.50,119.07 L34.90,119.11 L35.30,119.15 L35.70,119.19 L36.10,119.23 L36.50,119.28 L36.90,119.32 L37.30,119.37 L37.70,119.41 L38.10,119.46 L38.50,119.51 L38.90,119.56 L39.30,119.61 L39.70,119.66 L40.00,119.70 L40.10,119.71 L40.50,119.77 L40.90,119.84 L41.30,119.91 L41.70,119.99 L42.10,120.07 L42.50,120.16 L42.90,120.25 L43.30,120.34 L43.70,120.44 L44.10,120.53 L44.50,120.63 L44.90,120.72 L45.30,120.81 L45.70,120.90 L46.10,120.98 L46.50,121.06 L46.90,121.13 L47.30,121.20 L47.70,121.26 L48.10,121.31 L48.50,121.35 L48.90,121.38 L49.30,121.39 L49.70,121.40 L50.10,121.39 L50.50,121.37 L50.90,121.34 L51.30,121.29 L51.70,121.24 L52.10,121.18 L52.50,121.11 L52.90,121.04 L53.30,120.97 L53.70,120.89 L54.10,120.81 L54.50,120.74 L54.90,120.67 L55.30,120.60 L55.70,120.54 L56.00,120.50 L56.10,120.49 L56.50,120.44 L56.90,120.39 L57.30,120.35 L57.70,120.31 L58.10,120.27 L58.50,120.23 L58.90,120.19 L59.30,120.15 L59.70,120.11 L60.10,120.07 L60.50,120.03 L60.90,119.98 L61.30,119.94 L61.70,119.89 L62.10,119.83 L62.50,119.78 L62.90,119.72 L63.00,119.70 L63.30,119.65 L63.70,119.59 L64.10,119.53 L64.50,119.46 L64.90,119.37 L65.30,119.27 L65.70,119.14 L66.10,118.99 L66.30,118.90 L66.50,118.77 L66.90,118.30 L67.30,117.54 L67.70,116.49 L68.00,115.50 L68.10,115.04 L68.50,111.41 L68.90,105.81 L69.20,101.00 L69.30,99.32 L69.70,91.51 L70.10,82.03 L70.50,70.95 L70.90,58.35 L71.30,44.31 L71.70,28.90 L72.15,65.12 L72.60,97.11 L73.00,121.80 L73.05,124.64 L73.50,148.48 L73.90,165.50 L73.95,167.29 L74.40,182.53 L74.85,195.27 L75.30,204.30 L75.70,195.90 L76.10,187.56 L76.50,179.29 L76.90,171.07 L77.30,163.00 L77.30,162.90 L77.71,154.36 L78.11,145.73 L78.51,138.04 L78.70,135.00 L78.91,131.97 L79.31,126.82 L79.60,124.50 L79.71,123.96 L80.11,122.32 L80.51,121.21 L80.80,120.80 L80.91,120.70 L81.31,120.40 L81.72,120.16 L82.12,119.98 L82.52,119.86 L82.92,119.80 L83.00,119.80 L83.32,119.79 L83.72,119.79 L84.12,119.78 L84.52,119.78 L84.92,119.77 L85.32,119.77 L85.73,119.77 L86.13,119.76 L86.53,119.76 L86.93,119.76 L87.33,119.76 L87.73,119.76 L88.13,119.75 L88.53,119.75 L88.93,119.75 L89.33,119.75 L89.74,119.75 L90.14,119.75 L90.54,119.75 L90.94,119.75 L91.34,119.75 L91.74,119.75 L92.14,119.75 L92.54,119.75 L92.94,119.75 L93.34,119.74 L93.75,119.74 L94.15,119.74 L94.55,119.74 L94.95,119.74 L95.35,119.74 L95.75,119.73 L96.15,119.73 L96.55,119.73 L96.95,119.73 L97.35,119.72 L97.76,119.72 L98.16,119.71 L98.56,119.71 L98.96,119.70 L99.10,119.70 L99.36,119.68 L99.76,119.57 L100.16,119.38 L100.56,119.14 L100.96,118.84 L101.36,118.50 L101.77,118.14 L102.17,117.76 L102.57,117.39 L102.97,117.03 L103.00,117.00 L103.37,116.65 L103.77,116.22 L104.17,115.75 L104.57,115.28 L104.97,114.83 L105.00,114.80 L105.37,114.40 L105.78,113.99 L106.18,113.60 L106.58,113.20 L106.98,112.82 L107.38,112.43 L107.78,112.03 L108.18,111.62 L108.58,111.19 L108.98,110.75 L109.38,110.28 L109.78,109.78 L110.00,109.50 L110.19,109.24 L110.59,108.61 L110.99,107.90 L111.39,107.13 L111.79,106.33 L112.19,105.53 L112.59,104.75 L112.99,104.01 L113.39,103.33 L113.79,102.75 L114.00,102.50 L114.20,102.27 L114.60,101.79 L115.00,101.31 L115.40,100.84 L115.80,100.40 L116.20,100.01 L116.60,99.68 L117.00,99.42 L117.40,99.26 L117.80,99.20 L117.80,99.20 L118.21,99.27 L118.61,99.46 L119.01,99.74 L119.41,100.11 L119.81,100.55 L120.21,101.02 L120.61,101.52 L121.00,102.00 L121.01,102.02 L121.41,102.59 L121.81,103.30 L122.22,104.12 L122.62,105.02 L123.02,105.97 L123.42,106.95 L123.82,107.93 L124.22,108.87 L124.50,109.50 L124.62,109.77 L125.02,110.76 L125.42,111.83 L125.82,112.94 L126.23,114.03 L126.63,115.06 L127.03,115.96 L127.43,116.68 L127.83,117.17 L128.00,117.30 L128.23,117.43 L128.63,117.65 L129.03,117.86 L129.43,118.05 L129.83,118.22 L130.24,118.37 L130.64,118.51 L131.04,118.63 L131.44,118.73 L131.84,118.80 L132.24,118.86 L132.64,118.89 L133.00,118.90 L133.04,118.90 L133.44,118.90 L133.84,118.90 L134.25,118.90 L134.65,118.90 L135.05,118.90 L135.45,118.90 L135.85,118.90 L136.25,118.90 L136.65,118.90 L137.05,118.90 L137.45,118.90 L137.85,118.90 L138.26,118.90 L138.66,118.90 L139.06,118.90 L139.46,118.90 L139.86,118.90 L140.26,118.90 L140.66,118.90 L141.06,118.90 L141.46,118.90 L141.86,118.90 L142.26,118.90 L142.67,118.90 L143.07,118.90 L143.47,118.90 L143.87,118.90 L144.27,118.90 L144.67,118.90 L145.07,118.90 L145.47,118.90 L145.87,118.90 L146.27,118.90 L146.68,118.90 L147.08,118.90 L147.48,118.90 L147.88,118.90 L148.28,118.90 L148.68,118.90 L149.08,118.90 L149.48,118.90 L149.88,118.90 L150.28,118.90 L150.69,118.90 L151.00,118.90 L151.09,118.90 L151.49,118.92 L151.89,118.95 L152.29,119.01 L152.69,119.08 L153.09,119.17 L153.49,119.27 L153.89,119.38 L154.29,119.49 L154.70,119.61 L155.10,119.73 L155.50,119.86 L155.90,119.98 L156.30,120.09 L156.70,120.20 L157.10,120.31 L157.50,120.40 L157.90,120.47 L158.30,120.53 L158.71,120.58 L159.11,120.60 L159.30,120.60 L159.51,120.60 L159.91,120.59 L160.31,120.57 L160.71,120.54 L161.11,120.51 L161.51,120.47 L161.91,120.42 L162.31,120.37 L162.72,120.31 L163.12,120.25 L163.52,120.18 L163.92,120.11 L164.32,120.03 L164.72,119.96 L165.12,119.88 L165.52,119.80 L165.92,119.72 L166.32,119.64 L166.73,119.56 L167.13,119.48 L167.53,119.40 L167.93,119.33 L168.33,119.26 L168.73,119.19 L169.13,119.13 L169.53,119.07 L169.93,119.01 L170.33,118.97 L170.74,118.92 L171.00,118.90 L171.14,118.89 L171.54,118.86 L171.94,118.82 L172.34,118.79 L172.74,118.76 L173.14,118.72 L173.54,118.69 L173.94,118.66 L174.34,118.62 L174.74,118.59 L175.15,118.56 L175.55,118.53 L175.95,118.50 L176.35,118.47 L176.75,118.44 L177.15,118.41 L177.55,118.38 L177.95,118.36 L178.35,118.33 L178.75,118.31 L179.16,118.28 L179.56,118.26 L179.96,118.24 L180.36,118.22 L180.76,118.20 L181.16,118.18 L181.56,118.17 L181.96,118.15 L182.36,118.14 L182.76,118.13 L183.17,118.12 L183.57,118.11 L183.97,118.11 L184.37,118.10 L184.77,118.10 L185.00,118.10 L185.17,118.10 L185.57,118.10 L185.97,118.10 L186.37,118.11 L186.77,118.11 L187.18,118.12 L187.58,118.12 L187.98,118.13 L188.38,118.14 L188.78,118.15 L189.18,118.16 L189.58,118.17 L189.98,118.18 L190.38,118.19 L190.78,118.20 L191.19,118.21 L191.59,118.22 L191.99,118.23 L192.39,118.25 L192.79,118.26 L193.19,118.27 L193.59,118.28 L193.99,118.29 L194.39,118.31 L194.79,118.32 L195.20,118.33 L195.60,118.34 L196.00,118.35 L196.40,118.36 L196.80,118.36 L197.20,118.37 L197.60,118.38 L198.00,118.39 L198.40,118.39 L198.80,118.39 L199.21,118.40 L199.61,118.40 L200.00,118.40 L200.01,118.40 L200.41,118.40 L200.81,118.40 L201.21,118.40 L201.61,118.40 L202.01,118.40 L202.41,118.40 L202.81,118.40 L203.22,118.40 L203.62,118.40 L204.02,118.40 L204.42,118.40 L204.82,118.40 L205.22,118.40 L205.62,118.40 L206.02,118.40 L206.42,118.40 L206.82,118.40 L207.22,118.40 L207.63,118.40 L208.03,118.40 L208.43,118.40 L208.83,118.40 L209.23,118.40 L209.63,118.40 L210.03,118.40 L210.43,118.40 L210.83,118.40 L211.23,118.40 L211.64,118.40 L212.04,118.40 L212.44,118.40 L212.84,118.40 L213.24,118.40 L213.64,118.40 L214.04,118.40 L214.44,118.40 L214.84,118.40 L215.24,118.40 L215.65,118.40 L216.05,118.40 L216.45,118.40 L216.85,118.40 L217.25,118.40 L217.65,118.40 L218.05,118.40 L218.45,118.40 L218.85,118.40 L219.25,118.40 L219.66,118.40 L220.06,118.40 L220.46,118.40 L220.86,118.40 L221.00,118.40 L221.26,118.41 L221.66,118.46 L222.06,118.55 L222.46,118.67 L222.86,118.82 L223.26,118.98 L223.67,119.17 L224.07,119.36 L224.47,119.56 L224.87,119.75 L225.27,119.94 L225.67,120.12 L226.07,120.27 L226.47,120.41 L226.87,120.51 L227.27,120.57 L227.68,120.60 L227.70,120.60 L228.08,120.59 L228.48,120.54 L228.88,120.46 L229.28,120.36 L229.68,120.23 L230.08,120.07 L230.48,119.88 L230.88,119.67 L231.28,119.44 L231.50,119.30 L231.69,119.15 L232.09,118.65 L232.49,117.89 L232.89,116.88 L233.29,115.63 L233.60,114.50 L233.69,114.11 L234.09,111.35 L234.49,107.29 L234.89,102.39 L235.00,101.00 L235.29,96.78 L235.70,89.86 L236.10,81.67 L236.50,72.27 L236.90,61.73 L237.30,50.12 L237.70,37.50 L238.10,66.12 L238.50,92.37 L238.90,116.22 L239.00,121.80 L239.30,137.98 L239.70,157.37 L239.90,165.50 L240.10,172.83 L240.50,186.41 L240.90,197.95 L241.30,206.70 L241.70,200.17 L242.10,193.67 L242.50,187.20 L242.90,180.76 L243.30,174.35 L243.70,167.96 L244.10,161.59 L244.20,160.00 L244.50,155.27 L244.90,149.02 L245.30,142.76 L245.60,138.00 L245.70,136.29 L246.10,128.79 L246.40,125.00 L246.50,124.34 L246.90,122.23 L247.30,120.97 L247.40,120.80 L247.70,120.40 L248.10,119.96 L248.50,119.66 L248.90,119.51 L249.00,119.50 L249.30,119.49 L249.70,119.48 L250.10,119.47 L250.50,119.46 L250.90,119.45 L251.30,119.45 L251.70,119.44 L252.10,119.44 L252.50,119.44 L252.90,119.44 L253.30,119.43 L253.70,119.43 L254.10,119.42 L254.50,119.41 L254.90,119.40 L255.00,119.40 L255.30,119.39 L255.70,119.36 L256.10,119.31 L256.50,119.26 L256.90,119.19 L257.30,119.11 L257.70,119.03 L258.10,118.94 L258.50,118.84 L258.90,118.75 L259.30,118.64 L259.70,118.54 L260.10,118.44 L260.50,118.35 L260.90,118.25 L261.30,118.16 L261.60,118.10 L261.70,118.08 L262.10,118.00 L262.50,117.93 L262.90,117.86 L263.30,117.79 L263.70,117.73 L264.10,117.66 L264.50,117.60 L264.90,117.53 L265.30,117.47 L265.70,117.40 L266.10,117.33 L266.50,117.25 L266.90,117.17 L267.30,117.09 L267.70,117.00 L268.10,116.90 L268.50,116.80 L268.90,116.69 L269.30,116.57 L269.70,116.43 L269.80,116.40 L270.10,116.28 L270.50,116.09 L270.90,115.86 L271.30,115.59 L271.70,115.30 L272.10,114.97 L272.50,114.62 L272.90,114.25 L273.30,113.86 L273.70,113.45 L274.10,113.04 L274.50,112.62 L274.80,112.30 L274.90,112.19 L275.30,111.71 L275.70,111.17 L276.10,110.58 L276.50,109.95 L276.90,109.30 L277.30,108.63 L277.70,107.95 L278.10,107.28 L278.50,106.63 L278.90,106.01 L279.30,105.43 L279.70,104.90 L279.70,104.90 L280.10,104.38 L280.50,103.84 L280.90,103.28 L281.30,102.71 L281.70,102.15 L282.10,101.60 L282.50,101.08 L282.90,100.61 L283.30,100.18 L283.70,99.82 L284.10,99.53 L284.50,99.32 L284.90,99.21 L285.10,99.20 L285.30,99.25 L285.70,99.62 L286.10,100.29 L286.50,101.20 L286.90,102.28 L287.30,103.46 L287.70,104.67 L288.10,105.85 L288.50,106.92 L288.70,107.40 L288.90,107.86 L289.30,108.84 L289.70,109.86 L290.10,110.88 L290.50,111.88 L290.90,112.82 L291.30,113.66 L291.70,114.37 L292.00,114.80 L292.10,114.93 L292.50,115.42 L292.90,115.90 L293.30,116.35 L293.70,116.78 L294.10,117.16 L294.50,117.51 L294.90,117.81 L295.30,118.06 L295.70,118.25 L296.10,118.38 L296.20,118.40 L296.50,118.46 L296.90,118.53 L297.30,118.59 L297.70,118.65 L298.10,118.70 L298.50,118.75 L298.90,118.79 L299.30,118.83 L299.70,118.86 L300.10,118.88 L300.50,118.89 L300.90,118.90 L301.00,118.90 L301.30,118.89 L301.70,118.84 L302.10,118.75 L302.50,118.63 L302.90,118.48 L303.30,118.30 L303.70,118.11 L304.10,117.90 L304.50,117.68 L304.90,117.46 L305.30,117.23 L305.70,117.01 L306.10,116.79 L306.50,116.58 L306.90,116.39 L307.30,116.22 L307.70,116.07 L308.10,115.95 L308.50,115.86 L308.90,115.81 L309.00,115.80 L309.30,115.78 L309.70,115.76 L310.10,115.75 L310.50,115.73 L310.90,115.71 L311.30,115.70 L311.70,115.68 L312.10,115.67 L312.50,115.65 L312.90,115.64 L313.30,115.63 L313.70,115.62 L314.10,115.62 L314.50,115.61 L314.90,115.61 L315.30,115.60 L315.70,115.60 L316.00,115.60 L316.10,115.60 L316.50,115.64 L316.90,115.73 L317.30,115.86 L317.70,116.03 L318.10,116.23 L318.50,116.46 L318.90,116.70 L319.30,116.96 L319.70,117.23 L320.10,117.51 L320.50,117.78 L320.90,118.04 L321.30,118.29 L321.70,118.52 L322.10,118.72 L322.50,118.90 L322.90,119.06 L323.30,119.23 L323.70,119.40 L324.10,119.58 L324.50,119.75 L324.90,119.92 L325.30,120.09 L325.70,120.25 L326.10,120.40 L326.50,120.54 L326.90,120.67 L327.30,120.77 L327.70,120.86 L328.10,120.93 L328.50,120.98 L328.90,121.00 L329.00,121.00 L329.30,121.00 L329.70,120.99 L330.10,120.98 L330.50,120.96 L330.90,120.93 L331.30,120.91 L331.70,120.88 L332.10,120.85 L332.50,120.81 L332.90,120.78 L333.30,120.74 L333.70,120.71 L334.10,120.67 L334.50,120.64 L334.90,120.61 L335.00,120.60 L335.30,120.58 L335.70,120.55 L336.10,120.52 L336.50,120.49 L336.90,120.46 L337.30,120.43 L337.70,120.40 L338.10,120.37 L338.50,120.34 L338.90,120.31 L339.30,120.28 L339.70,120.25 L340.10,120.22 L340.50,120.19 L340.90,120.16 L341.30,120.13 L341.70,120.10 L342.10,120.06 L342.50,120.03 L342.90,120.00 L343.30,119.97 L343.70,119.94 L344.10,119.90 L344.50,119.87 L344.90,119.84 L345.30,119.80 L345.70,119.77 L346.10,119.73 L346.50,119.70 L346.90,119.66 L347.30,119.63 L347.70,119.59 L348.10,119.55 L348.50,119.50 L348.90,119.46 L349.30,119.41 L349.70,119.36 L350.10,119.32 L350.50,119.27 L350.90,119.22 L351.30,119.16 L351.70,119.11 L352.10,119.06 L352.50,119.01 L352.90,118.96 L353.30,118.91 L353.70,118.86 L354.10,118.80 L354.50,118.75 L354.90,118.70 L355.30,118.66 L355.70,118.61 L356.10,118.56 L356.50,118.52 L356.90,118.47 L357.30,118.43 L357.70,118.39 L358.10,118.35 L358.50,118.32 L358.90,118.28 L359.30,118.25 L359.70,118.22 L360.10,118.19 L360.50,118.17 L360.90,118.15 L361.30,118.13 L361.70,118.12 L362.10,118.11 L362.50,118.10 L362.90,118.10 L363.00,118.10 L363.30,118.10 L363.70,118.11 L364.10,118.12 L364.50,118.13 L364.90,118.15 L365.30,118.17 L365.70,118.19 L366.10,118.22 L366.50,118.25 L366.90,118.29 L367.30,118.33 L367.70,118.38 L368.10,118.43 L368.50,118.48 L368.90,118.54 L369.30,118.60 L369.70,118.66 L370.10,118.73 L370.50,118.80 L370.90,118.88 L371.00,118.90 L371.30,119.01 L371.70,119.28 L372.10,119.63 L372.50,120.00 L372.90,120.32 L373.30,120.54 L373.60,120.60 L373.70,120.59 L374.10,120.37 L374.50,119.89 L374.90,119.20 L375.00,119.00 L375.30,117.74 L375.70,114.68 L376.00,112.00 L376.10,111.09 L376.50,106.91 L376.90,101.56 L377.00,100.00 L377.30,94.61 L377.70,85.75 L378.10,75.05 L378.50,62.58 L378.90,48.44 L379.30,32.70 L379.72,74.96 L380.14,110.25 L380.30,121.80 L380.56,138.39 L380.98,160.66 L381.10,165.50 L381.39,175.49 L381.81,188.31 L382.23,197.86 L382.65,202.40 L383.05,194.77 L383.45,187.18 L383.85,179.63 L384.25,172.10 L384.65,164.61 L384.90,160.00 L385.05,157.10 L385.45,149.35 L385.85,141.82 L386.20,136.00 L386.26,135.12 L386.66,128.69 L387.00,125.00 L387.06,124.68 L387.46,122.71 L387.86,121.37 L388.20,120.80 L388.26,120.75 L388.66,120.45 L389.06,120.21 L389.46,120.02 L389.86,119.89 L390.26,119.82 L390.50,119.80 L390.66,119.80 L391.06,119.79 L391.46,119.78 L391.86,119.77 L392.26,119.77 L392.67,119.76 L393.07,119.76 L393.47,119.76 L393.87,119.76 L394.27,119.75 L394.67,119.75 L395.07,119.75 L395.47,119.75 L395.87,119.75 L396.27,119.75 L396.67,119.75 L397.07,119.74 L397.47,119.74 L397.87,119.74 L398.27,119.74 L398.67,119.73 L399.07,119.73 L399.48,119.72 L399.88,119.72 L400.28,119.71 L400.68,119.70 L400.80,119.70 L401.08,119.64 L401.48,119.39 L401.88,118.99 L402.28,118.51 L402.68,118.00 L403.08,117.51 L403.48,117.11 L403.88,116.84 L404.00,116.80 L404.28,116.72 L404.68,116.62 L405.08,116.53 L405.48,116.46 L405.89,116.40 L406.29,116.35 L406.69,116.30 L407.09,116.26 L407.49,116.22 L407.89,116.18 L408.29,116.15 L408.69,116.11 L409.09,116.07 L409.49,116.02 L409.89,115.96 L410.29,115.90 L410.69,115.82 L411.09,115.73 L411.49,115.63 L411.60,115.60 L411.89,115.49 L412.30,115.28 L412.70,115.00 L413.10,114.65 L413.50,114.24 L413.90,113.79 L414.30,113.30 L414.70,112.77 L415.10,112.21 L415.50,111.64 L415.90,111.05 L416.30,110.45 L416.70,109.86 L417.10,109.28 L417.30,109.00 L417.50,108.70 L417.90,108.06 L418.30,107.36 L418.70,106.61 L419.11,105.83 L419.51,105.05 L419.91,104.27 L420.31,103.52 L420.71,102.81 L421.11,102.16 L421.50,101.60 L421.51,101.59 L421.91,101.03 L422.31,100.46 L422.71,99.87 L423.11,99.30 L423.51,98.77 L423.91,98.28 L424.31,97.86 L424.71,97.53 L425.11,97.30 L425.52,97.20 L425.60,97.20 L425.92,97.29 L426.32,97.65 L426.72,98.23 L427.12,99.00 L427.52,99.92 L427.92,100.95 L428.32,102.03 L428.72,103.15 L429.12,104.24 L429.52,105.27 L429.70,105.70 L429.92,106.25 L430.32,107.35 L430.72,108.55 L431.12,109.79 L431.52,111.02 L431.92,112.18 L432.33,113.21 L432.73,114.06 L433.00,114.50 L433.13,114.67 L433.53,115.20 L433.93,115.69 L434.33,116.15 L434.73,116.57 L435.13,116.96 L435.53,117.32 L435.93,117.65 L436.33,117.95 L436.73,118.23 L437.13,118.48 L437.53,118.71 L437.90,118.90 L437.93,118.92 L438.33,119.12 L438.74,119.31 L439.14,119.51 L439.54,119.69 L439.94,119.87 L440.34,120.03 L440.74,120.18 L441.14,120.31 L441.54,120.42 L441.94,120.51 L442.34,120.57 L442.74,120.60 L442.90,120.60 L443.14,120.59 L443.54,120.55 L443.94,120.48 L444.34,120.38 L444.74,120.26 L445.15,120.11 L445.55,119.95 L445.95,119.77 L446.35,119.57 L446.75,119.37 L447.15,119.17 L447.55,118.96 L447.95,118.76 L448.35,118.56 L448.75,118.38 L449.15,118.20 L449.40,118.10 L449.55,118.04 L449.95,117.86 L450.35,117.66 L450.75,117.46 L451.15,117.24 L451.55,117.03 L451.96,116.83 L452.36,116.64 L452.76,116.46 L453.16,116.32 L453.56,116.20 L453.96,116.13 L454.36,116.10 L454.40,116.10 L454.76,116.11 L455.16,116.15 L455.56,116.21 L455.96,116.30 L456.36,116.40 L456.76,116.52 L457.16,116.65 L457.56,116.80 L457.96,116.95 L458.37,117.11 L458.77,117.27 L459.17,117.43 L459.57,117.59 L459.97,117.75 L460.37,117.89 L460.77,118.03 L461.00,118.10 L461.17,118.15 L461.57,118.28 L461.97,118.42 L462.37,118.56 L462.77,118.71 L463.17,118.85 L463.57,119.00 L463.97,119.15 L464.37,119.29 L464.77,119.43 L465.18,119.56 L465.58,119.68 L465.98,119.79 L466.38,119.89 L466.78,119.98 L467.18,120.05 L467.58,120.10 L467.60,120.10 L467.98,120.14 L468.38,120.18 L468.78,120.22 L469.18,120.26 L469.58,120.29 L469.98,120.33 L470.38,120.36 L470.78,120.39 L471.18,120.42 L471.59,120.45 L471.99,120.47 L472.39,120.50 L472.79,120.52 L473.19,120.54 L473.59,120.56 L473.99,120.57 L474.39,120.58 L474.79,120.59 L475.19,120.60 L475.59,120.60 L475.80,120.60 L475.99,120.60 L476.39,120.58 L476.79,120.54 L477.19,120.49 L477.59,120.42 L478.00,120.34 L478.40,120.25 L478.80,120.15 L479.20,120.04 L479.60,119.92 L480.00,119.79 L480.40,119.67 L480.80,119.53 L481.20,119.40" stroke="#258DDB" stroke-width="1.1"/>
</g>
<circle cx="90" cy="58.6" r="2.1" fill="#000"/>
<circle cx="257" cy="45.9" r="2.1" fill="#000"/>
<circle cx="398.7" cy="49.2" r="2.1" fill="#000"/>
<circle cx="71.7" cy="28.9" r="2.1" fill="#0000ff"/>
<circle cx="237.7" cy="37.5" r="2.1" fill="#0000ff"/>
<circle cx="379.3" cy="32.7" r="2.1" fill="#0000ff"/>
<rect x="32.5" y="5.85" width="448.2" height="224.45000000000002" fill="none" class="ax"/>
<line x1="81.7" y1="230.3" x2="81.7" y2="226.10000000000002" class="tk"/>
<line x1="81.7" y1="5.85" x2="81.7" y2="10.05" class="tk"/>
<line x1="155.06" y1="230.3" x2="155.06" y2="226.10000000000002" class="tk"/>
<line x1="155.06" y1="5.85" x2="155.06" y2="10.05" class="tk"/>
<line x1="228.42000000000002" y1="230.3" x2="228.42000000000002" y2="226.10000000000002" class="tk"/>
<line x1="228.42000000000002" y1="5.85" x2="228.42000000000002" y2="10.05" class="tk"/>
<line x1="301.78" y1="230.3" x2="301.78" y2="226.10000000000002" class="tk"/>
<line x1="301.78" y1="5.85" x2="301.78" y2="10.05" class="tk"/>
<line x1="375.14" y1="230.3" x2="375.14" y2="226.10000000000002" class="tk"/>
<line x1="375.14" y1="5.85" x2="375.14" y2="10.05" class="tk"/>
<line x1="448.5" y1="230.3" x2="448.5" y2="226.10000000000002" class="tk"/>
<line x1="448.5" y1="5.85" x2="448.5" y2="10.05" class="tk"/>
<line x1="32.5" y1="42.8" x2="36.7" y2="42.8" class="tk"/>
<line x1="480.7" y1="42.8" x2="476.5" y2="42.8" class="tk"/>
<line x1="32.5" y1="80.2" x2="36.7" y2="80.2" class="tk"/>
<line x1="480.7" y1="80.2" x2="476.5" y2="80.2" class="tk"/>
<line x1="32.5" y1="117.6" x2="36.7" y2="117.6" class="tk"/>
<line x1="480.7" y1="117.6" x2="476.5" y2="117.6" class="tk"/>
<line x1="32.5" y1="155" x2="36.7" y2="155" class="tk"/>
<line x1="480.7" y1="155" x2="476.5" y2="155" class="tk"/>
<line x1="32.5" y1="192.4" x2="36.7" y2="192.4" class="tk"/>
<line x1="480.7" y1="192.4" x2="476.5" y2="192.4" class="tk"/>
<text x="81.7" y="241.3" text-anchor="middle" class="t" style="font-size:8.1px">132</text>
<text x="155.06" y="241.3" text-anchor="middle" class="t" style="font-size:8.1px">132.5</text>
<text x="228.42000000000002" y="241.3" text-anchor="middle" class="t" style="font-size:8.1px">133</text>
<text x="301.78" y="241.3" text-anchor="middle" class="t" style="font-size:8.1px">133.5</text>
<text x="375.14" y="241.3" text-anchor="middle" class="t" style="font-size:8.1px">134</text>
<text x="448.5" y="241.3" text-anchor="middle" class="t" style="font-size:8.1px">134.5</text>
<text x="30.0" y="45.75" text-anchor="end" class="t" style="font-size:8.1px">1</text>
<text x="30.0" y="83.15" text-anchor="end" class="t" style="font-size:8.1px">0.5</text>
<text x="30.0" y="120.55" text-anchor="end" class="t" style="font-size:8.1px">0</text>
<text x="30.0" y="157.95" text-anchor="end" class="t" style="font-size:8.1px">-0.5</text>
<text x="30.0" y="195.35" text-anchor="end" class="t" style="font-size:8.1px">-1</text>
<text x="30.0" y="233.25" text-anchor="end" class="t" style="font-size:8.1px">-1.5</text>
<rect x="277.5" y="5.85" width="203.2" height="13.750000000000002" fill="#fff" stroke="#d2d2d2" stroke-width="0.8"/>
<line x1="278.8" y1="12.7" x2="290" y2="12.7" stroke="#F9622E" stroke-width="1.1"/>
<text x="291.3" y="15.8" textLength="17.3" lengthAdjust="spacingAndGlyphs" class="t" style="font-size:7.9px">NCC</text>
<line x1="311.2" y1="12.7" x2="322.2" y2="12.7" stroke="#050505" stroke-width="1.1"/>
<text x="323.4" y="15.8" textLength="18.0" lengthAdjust="spacingAndGlyphs" class="t" style="font-size:7.9px">SCG</text>
<circle cx="349.9" cy="12.7" r="2.0" fill="#000"/>
<text x="357" y="15.8" textLength="43.4" lengthAdjust="spacingAndGlyphs" class="t" style="font-size:7.9px">NCC-peaks</text>
<line x1="402.2" y1="12.7" x2="414.2" y2="12.7" stroke="#258DDB" stroke-width="1.1"/>
<text x="415.3" y="15.8" textLength="17.3" lengthAdjust="spacingAndGlyphs" class="t" style="font-size:7.9px">ECG</text>
<circle cx="441.1" cy="12.7" r="2.0" fill="#0000ff"/>
<text x="448.7" y="15.8" textLength="30.8" lengthAdjust="spacingAndGlyphs" class="t" style="font-size:7.9px">R-peaks</text>
<text x="239.9" y="253.1" textLength="32.9" lengthAdjust="spacingAndGlyphs" class="t" style="font-size:8.7px">Time [s]</text>
<text transform="translate(13.1,151.6) rotate(-90)" textLength="65.4" lengthAdjust="spacingAndGlyphs" class="t" style="font-size:8.7px">Amplitude [a.u.]</text>
<text x="244.3" y="271.9" text-anchor="middle" class="cap" style="font-size:10.6px">(<tspan font-weight="bold">a</tspan>)</text>
<clipPath id="c2"><rect x="32.5" y="277.5" width="448.2" height="224.60000000000002"/></clipPath>
<line x1="93.1" y1="277.5" x2="93.1" y2="502.1" class="g"/>
<line x1="193" y1="277.5" x2="193" y2="502.1" class="g"/>
<line x1="292.9" y1="277.5" x2="292.9" y2="502.1" class="g"/>
<line x1="392.7" y1="277.5" x2="392.7" y2="502.1" class="g"/>
<line x1="32.5" y1="288.5" x2="480.7" y2="288.5" class="g"/>
<line x1="32.5" y1="310.96" x2="480.7" y2="310.96" class="g"/>
<line x1="32.5" y1="333.42" x2="480.7" y2="333.42" class="g"/>
<line x1="32.5" y1="355.88" x2="480.7" y2="355.88" class="g"/>
<line x1="32.5" y1="378.34000000000003" x2="480.7" y2="378.34000000000003" class="g"/>
<line x1="32.5" y1="400.8" x2="480.7" y2="400.8" class="g"/>
<line x1="32.5" y1="423.26" x2="480.7" y2="423.26" class="g"/>
<line x1="32.5" y1="445.72" x2="480.7" y2="445.72" class="g"/>
<line x1="32.5" y1="468.18" x2="480.7" y2="468.18" class="g"/>
<line x1="32.5" y1="490.64" x2="480.7" y2="490.64" class="g"/>
<g clip-path="url(#c2)" fill="none" stroke-linejoin="round" stroke-linecap="round">
<path d="M32.50,371.10 L32.92,363.19 L33.34,357.17 L33.75,353.00 L34.17,350.66 L34.50,350.10 L34.59,350.18 L35.01,352.56 L35.42,357.55 L35.84,364.24 L36.26,371.70 L36.68,379.01 L37.00,384.00 L37.09,385.32 L37.51,391.18 L37.93,397.12 L38.35,403.21 L38.60,407.00 L38.76,409.52 L39.18,416.10 L39.60,422.90 L50.65,422.90 L50.89,420.29 L51.13,416.72 L51.36,412.85 L51.60,408.90 L51.84,404.99 L52.08,401.21 L52.32,397.62 L52.56,394.27 L52.79,391.19 L53.03,388.42 L53.27,385.97 L53.51,383.87 L53.75,382.13 L53.99,380.77 L54.22,379.79 L54.46,379.20 L54.70,379.00 L54.95,379.18 L55.19,379.70 L55.44,380.58 L55.68,381.80 L55.93,383.35 L56.17,385.23 L56.41,387.43 L56.66,389.92 L56.91,392.70 L57.15,395.73 L57.40,398.99 L57.64,402.45 L57.88,406.07 L58.13,409.77 L58.38,413.50 L58.62,417.13 L58.87,420.47 L59.11,422.90 L61.94,422.90 L62.18,420.61 L62.41,417.55 L62.65,414.32 L62.88,411.13 L63.12,408.09 L63.35,405.28 L63.59,402.76 L63.82,400.57 L64.06,398.74 L64.29,397.29 L64.53,396.24 L64.76,395.61 L65.00,395.40 L65.23,395.65 L65.47,396.39 L65.70,397.61 L65.93,399.30 L66.16,401.44 L66.39,403.98 L66.63,406.89 L66.86,410.09 L67.09,413.51 L67.32,417.01 L67.56,420.37 L67.79,422.90 L72.47,422.90 L72.71,420.37 L72.96,417.10 L73.20,413.77 L73.44,410.64 L73.69,407.83 L73.93,405.44 L74.17,403.53 L74.41,402.13 L74.66,401.28 L74.90,401.00 L75.13,401.23 L75.36,401.94 L75.59,403.09 L75.82,404.69 L76.05,406.69 L76.27,409.06 L76.50,411.75 L76.73,414.67 L76.96,417.71 L77.19,420.65 L77.42,422.90 L82.52,422.90 L82.77,419.28 L83.02,414.74 L83.26,410.35 L83.51,406.46 L83.76,403.27 L84.00,400.92 L84.25,399.48 L84.50,399.00 L84.72,398.89 L84.95,398.56 L85.17,398.07 L85.40,397.50 L85.62,396.93 L85.85,396.44 L86.08,396.11 L86.30,396.00 L86.54,395.89 L86.77,395.58 L87.01,395.06 L87.25,394.37 L87.49,393.53 L87.72,392.57 L87.96,391.53 L88.20,390.45 L88.44,389.37 L88.67,388.33 L88.91,387.37 L89.15,386.53 L89.39,385.84 L89.62,385.32 L89.86,385.01 L90.10,384.90 L90.34,385.09 L90.58,385.67 L90.83,386.63 L91.07,387.96 L91.31,389.65 L91.55,391.70 L91.79,394.07 L92.03,396.76 L92.28,399.72 L92.52,402.94 L92.76,406.36 L93.00,409.93 L93.24,413.56 L93.49,417.14 L93.73,420.46 L93.97,422.90 L106.69,422.90 L106.92,415.13 L107.16,404.63 L107.39,393.38 L107.63,382.05 L107.86,371.02 L108.09,360.54 L108.33,350.80 L108.56,341.95 L108.80,334.09 L109.03,327.32 L109.26,321.69 L109.50,317.26 L109.73,314.07 L109.97,312.14 L110.20,311.50 L110.43,312.14 L110.67,314.07 L110.90,317.26 L111.14,321.69 L111.37,327.32 L111.60,334.09 L111.84,341.95 L112.07,350.80 L112.31,360.54 L112.54,371.02 L112.77,382.05 L113.01,393.38 L113.24,404.63 L113.48,415.13 L113.71,422.90 L125.28,422.90 L125.52,420.55 L125.76,417.32 L126.00,413.80 L126.24,410.19 L126.48,406.60 L126.72,403.11 L126.96,399.76 L127.20,396.60 L127.44,393.66 L127.68,390.97 L127.92,388.56 L128.16,386.43 L128.40,384.61 L128.64,383.11 L128.88,381.93 L129.12,381.08 L129.36,380.57 L129.60,380.40 L129.85,380.54 L130.09,380.95 L130.34,381.64 L130.59,382.60 L130.84,383.82 L131.08,385.30 L131.33,387.04 L131.58,389.02 L131.83,391.23 L132.07,393.66 L132.32,396.29 L132.57,399.11 L132.82,402.08 L133.06,405.19 L133.31,408.39 L133.56,411.64 L133.81,414.87 L134.05,417.99 L134.30,420.84 L134.55,422.90 L142.34,422.90 L142.58,420.30 L142.81,416.83 L143.05,413.16 L143.28,409.54 L143.52,406.09 L143.75,402.91 L143.99,400.05 L144.22,397.56 L144.46,395.48 L144.69,393.84 L144.93,392.66 L145.16,391.94 L145.40,391.70 L145.64,391.81 L145.87,392.15 L146.11,392.71 L146.35,393.49 L146.58,394.48 L146.82,395.68 L147.06,397.09 L147.29,398.69 L147.53,400.48 L147.77,402.43 L148.01,404.55 L148.24,406.80 L148.48,409.17 L148.72,411.62 L148.95,414.13 L149.19,416.63 L149.43,419.06 L149.66,421.29 L149.90,422.90 L151.07,422.90 L151.32,421.51 L151.57,419.60 L151.82,417.54 L152.07,415.44 L152.31,413.35 L152.56,411.34 L152.81,409.43 L153.06,407.64 L153.31,406.00 L153.56,404.52 L153.81,403.22 L154.06,402.10 L154.30,401.17 L154.55,400.44 L154.80,399.92 L155.05,399.61 L155.30,399.50 L155.55,399.58 L155.79,399.84 L156.04,400.26 L156.29,400.84 L156.53,401.58 L156.78,402.49 L157.02,403.54 L157.27,404.74 L157.52,406.08 L157.76,407.55 L158.01,409.14 L158.26,410.83 L158.50,412.60 L158.75,414.44 L158.99,416.32 L159.24,418.20 L159.49,420.02 L159.73,421.69 L159.98,422.90 L168.78,422.90 L169.03,419.98 L169.28,415.93 L169.53,411.48 L169.77,406.85 L170.02,402.18 L170.27,397.56 L170.52,393.05 L170.77,388.70 L171.02,384.56 L171.27,380.65 L171.51,377.02 L171.76,373.66 L172.01,370.62 L172.26,367.90 L172.51,365.52 L172.76,363.48 L173.01,361.81 L173.25,360.50 L173.50,359.55 L173.75,358.99 L174.00,358.80 L174.25,358.91 L174.49,359.26 L174.74,359.83 L174.99,360.62 L175.23,361.64 L175.48,362.88 L175.73,364.34 L175.97,366.02 L176.22,367.90 L176.47,369.99 L176.71,372.27 L176.96,374.75 L177.21,377.41 L177.45,380.24 L177.70,383.23 L177.95,386.37 L178.19,389.65 L178.44,393.05 L178.69,396.54 L178.93,400.11 L179.18,403.73 L179.43,407.37 L179.67,410.97 L179.92,414.48 L180.17,417.80 L180.41,420.78 L180.66,422.90 L186.92,422.90 L187.16,421.38 L187.39,419.32 L187.63,417.10 L187.86,414.84 L188.10,412.63 L188.34,410.50 L188.57,408.51 L188.81,406.66 L189.05,405.00 L189.28,403.52 L189.52,402.25 L189.75,401.20 L189.99,400.37 L190.23,399.78 L190.46,399.42 L190.70,399.30 L190.94,399.41 L191.19,399.72 L191.43,400.25 L191.67,400.98 L191.92,401.92 L192.16,403.05 L192.40,404.36 L192.65,405.86 L192.89,407.51 L193.14,409.31 L193.38,411.24 L193.62,413.27 L193.87,415.37 L194.11,417.50 L194.35,419.58 L194.60,421.49 L194.84,422.90 L200.78,422.90 L201.02,420.86 L201.26,418.05 L201.50,415.00 L201.74,411.87 L201.98,408.75 L202.22,405.71 L202.46,402.81 L202.70,400.06 L202.94,397.51 L203.18,395.18 L203.42,393.08 L203.66,391.24 L203.90,389.66 L204.14,388.35 L204.38,387.33 L204.62,386.59 L204.86,386.15 L205.10,386.00 L205.34,386.19 L205.57,386.75 L205.81,387.68 L206.04,388.97 L206.28,390.61 L206.52,392.60 L206.75,394.91 L206.99,397.51 L207.23,400.40 L207.46,403.52 L207.70,406.84 L207.94,410.30 L208.17,413.83 L208.41,417.30 L208.64,420.53 L208.88,422.90 L221.55,422.90 L221.79,419.96 L222.03,416.03 L222.28,411.88 L222.52,407.79 L222.76,403.89 L223.00,400.28 L223.25,397.05 L223.49,394.23 L223.73,391.88 L223.97,390.02 L224.22,388.68 L224.46,387.87 L224.70,387.60 L224.94,387.79 L225.17,388.34 L225.41,389.23 L225.64,390.41 L225.88,391.82 L226.11,393.39 L226.35,395.05 L226.59,396.71 L226.82,398.28 L227.06,399.69 L227.29,400.87 L227.53,401.76 L227.76,402.31 L228.00,402.50 L228.23,402.38 L228.47,402.01 L228.70,401.43 L228.93,400.68 L229.17,399.79 L229.40,398.85 L229.63,397.91 L229.87,397.02 L230.10,396.27 L230.33,395.69 L230.57,395.32 L230.80,395.20 L231.04,395.41 L231.28,396.05 L231.53,397.10 L231.77,398.56 L232.01,400.40 L232.25,402.61 L232.50,405.15 L232.74,407.98 L232.98,411.04 L233.22,414.26 L233.47,417.51 L233.71,420.59 L233.95,422.90 L246.79,422.90 L247.02,415.20 L247.26,404.80 L247.49,393.65 L247.73,382.42 L247.96,371.48 L248.19,361.10 L248.43,351.45 L248.66,342.68 L248.90,334.89 L249.13,328.17 L249.36,322.60 L249.60,318.21 L249.83,315.04 L250.07,313.14 L250.30,312.50 L250.55,313.14 L250.79,315.04 L251.04,318.21 L251.28,322.60 L251.53,328.17 L251.78,334.89 L252.02,342.68 L252.27,351.45 L252.51,361.10 L252.76,371.48 L253.01,382.42 L253.25,393.65 L253.50,404.80 L253.74,415.20 L253.99,422.90 L266.07,422.90 L266.32,420.61 L266.57,417.49 L266.82,414.11 L267.07,410.65 L267.31,407.23 L267.56,403.93 L267.81,400.79 L268.06,397.86 L268.31,395.17 L268.56,392.74 L268.81,390.60 L269.06,388.76 L269.30,387.24 L269.55,386.05 L269.80,385.19 L270.05,384.67 L270.30,384.50 L270.54,384.64 L270.77,385.05 L271.01,385.74 L271.25,386.70 L271.48,387.92 L271.72,389.40 L271.96,391.13 L272.19,393.10 L272.43,395.30 L272.67,397.71 L272.91,400.31 L273.14,403.09 L273.38,406.00 L273.62,409.02 L273.85,412.11 L274.09,415.19 L274.33,418.18 L274.56,420.91 L274.80,422.90 L281.87,422.90 L282.12,420.16 L282.37,416.42 L282.62,412.37 L282.87,408.23 L283.11,404.13 L283.36,400.18 L283.61,396.42 L283.86,392.90 L284.11,389.68 L284.36,386.77 L284.61,384.21 L284.86,382.00 L285.10,380.18 L285.35,378.75 L285.60,377.73 L285.85,377.11 L286.10,376.90 L286.34,377.04 L286.58,377.44 L286.82,378.12 L287.06,379.06 L287.30,380.26 L287.54,381.72 L287.78,383.43 L288.02,385.38 L288.26,387.57 L288.50,389.97 L288.74,392.58 L288.98,395.38 L289.22,398.36 L289.46,401.48 L289.70,404.71 L289.94,408.03 L290.18,411.38 L290.42,414.70 L290.66,417.90 L290.90,420.80 L291.14,422.90 L292.50,422.90 L292.74,421.64 L292.97,419.90 L293.21,418.00 L293.45,416.04 L293.68,414.08 L293.92,412.16 L294.16,410.31 L294.39,408.55 L294.63,406.89 L294.87,405.36 L295.11,403.97 L295.34,402.71 L295.58,401.61 L295.82,400.67 L296.05,399.90 L296.29,399.29 L296.53,398.85 L296.76,398.59 L297.00,398.50 L297.24,398.62 L297.47,398.99 L297.71,399.61 L297.94,400.46 L298.18,401.55 L298.42,402.86 L298.65,404.39 L298.89,406.11 L299.13,408.02 L299.36,410.08 L299.60,412.28 L299.83,414.57 L300.07,416.90 L300.31,419.20 L300.54,421.33 L300.78,422.90 L307.41,422.90 L307.66,420.23 L307.91,416.53 L308.16,412.44 L308.41,408.17 L308.66,403.85 L308.91,399.56 L309.16,395.35 L309.41,391.28 L309.66,387.37 L309.91,383.66 L310.15,380.18 L310.40,376.94 L310.65,373.96 L310.90,371.26 L311.15,368.85 L311.40,366.74 L311.65,364.94 L311.90,363.46 L312.15,362.30 L312.40,361.47 L312.65,360.97 L312.90,360.80 L313.14,360.93 L313.38,361.32 L313.62,361.96 L313.86,362.86 L314.11,364.01 L314.35,365.41 L314.59,367.05 L314.83,368.94 L315.07,371.05 L315.31,373.39 L315.55,375.95 L315.79,378.72 L316.04,381.68 L316.28,384.82 L316.52,388.14 L316.76,391.60 L317.00,395.19 L317.24,398.88 L317.48,402.64 L317.72,406.45 L317.97,410.23 L318.21,413.94 L318.45,417.46 L318.69,420.63 L318.93,422.90 L327.85,422.90 L328.09,419.54 L328.33,414.94 L328.56,409.96 L328.80,404.88 L329.04,399.85 L329.28,394.99 L329.52,390.37 L329.76,386.06 L329.99,382.09 L330.23,378.52 L330.47,375.37 L330.71,372.67 L330.95,370.43 L331.19,368.68 L331.42,367.41 L331.66,366.65 L331.90,366.40 L332.14,366.65 L332.38,367.41 L332.61,368.68 L332.85,370.43 L333.09,372.67 L333.33,375.37 L333.57,378.52 L333.81,382.09 L334.04,386.06 L334.28,390.37 L334.52,394.99 L334.76,399.85 L335.00,404.88 L335.24,409.96 L335.47,414.94 L335.71,419.54 L335.95,422.90 L341.01,422.90 L341.26,421.22 L341.50,418.95 L341.75,416.51 L341.99,414.06 L342.24,411.68 L342.49,409.41 L342.73,407.30 L342.98,405.39 L343.22,403.69 L343.47,402.22 L343.72,401.00 L343.96,400.05 L344.21,399.36 L344.45,398.94 L344.70,398.80 L344.94,398.92 L345.17,399.29 L345.41,399.90 L345.64,400.74 L345.88,401.81 L346.12,403.11 L346.35,404.62 L346.59,406.32 L346.83,408.20 L347.06,410.24 L347.30,412.41 L347.53,414.67 L347.77,416.98 L348.01,419.24 L348.24,421.35 L348.48,422.90 L352.66,422.90 L352.89,420.89 L353.13,418.29 L353.36,415.65 L353.60,413.16 L353.83,410.93 L354.06,409.03 L354.30,407.51 L354.53,406.40 L354.77,405.73 L355.00,405.50 L355.25,405.69 L355.49,406.24 L355.74,407.16 L355.98,408.43 L356.23,410.02 L356.47,411.91 L356.72,414.04 L356.96,416.36 L357.21,418.77 L357.45,421.11 L357.70,422.90 L362.37,422.90 L362.61,420.41 L362.85,417.06 L363.08,413.49 L363.32,409.93 L363.56,406.50 L363.80,403.28 L364.03,400.33 L364.27,397.71 L364.51,395.43 L364.75,393.54 L364.99,392.04 L365.22,390.97 L365.46,390.32 L365.70,390.10 L365.94,390.31 L366.17,390.94 L366.41,391.94 L366.64,393.28 L366.88,394.88 L367.11,396.67 L367.35,398.55 L367.59,400.43 L367.82,402.22 L368.06,403.82 L368.29,405.16 L368.53,406.16 L368.76,406.79 L369.00,407.00 L369.23,406.76 L369.47,406.04 L369.70,404.89 L369.93,403.34 L370.17,401.48 L370.40,399.36 L370.63,397.11 L370.87,394.79 L371.10,392.54 L371.33,390.43 L371.57,388.56 L371.80,387.01 L372.03,385.86 L372.27,385.14 L372.50,384.90 L372.75,385.12 L372.99,385.78 L373.24,386.86 L373.48,388.37 L373.73,390.29 L373.98,392.61 L374.22,395.29 L374.47,398.31 L374.71,401.63 L374.96,405.20 L375.21,408.97 L375.45,412.83 L375.70,416.67 L375.94,420.25 L376.19,422.90 L387.80,422.90 L388.04,415.53 L388.28,405.57 L388.52,394.89 L388.76,384.14 L389.00,373.67 L389.24,363.73 L389.48,354.49 L389.72,346.09 L389.96,338.64 L390.20,332.21 L390.44,326.87 L390.68,322.66 L390.92,319.64 L391.16,317.81 L391.40,317.20 L391.64,317.74 L391.87,319.34 L392.11,322.01 L392.34,325.71 L392.58,330.42 L392.82,336.10 L393.05,342.71 L393.29,350.18 L393.53,358.44 L393.76,367.38 L394.00,376.90 L394.24,386.81 L394.47,396.91 L394.71,406.87 L394.94,416.11 L395.18,422.90 L406.82,422.90 L407.06,419.72 L407.29,415.39 L407.53,410.73 L407.76,406.00 L408.00,401.36 L408.24,396.90 L408.47,392.71 L408.71,388.84 L408.95,385.35 L409.18,382.25 L409.42,379.59 L409.66,377.38 L409.89,375.65 L410.13,374.40 L410.36,373.65 L410.60,373.40 L410.84,373.65 L411.07,374.40 L411.31,375.65 L411.55,377.38 L411.78,379.59 L412.02,382.25 L412.25,385.35 L412.49,388.84 L412.73,392.71 L412.96,396.90 L413.20,401.36 L413.44,406.00 L413.67,410.73 L413.91,415.39 L414.14,419.72 L414.38,422.90 L424.36,422.90 L424.61,419.33 L424.86,414.57 L425.11,409.54 L425.36,404.58 L425.61,399.85 L425.86,395.48 L426.10,391.55 L426.35,388.14 L426.60,385.29 L426.85,383.04 L427.10,381.41 L427.35,380.43 L427.60,380.10 L427.84,380.35 L428.08,381.09 L428.32,382.31 L428.56,384.01 L428.80,386.18 L429.04,388.78 L429.28,391.80 L429.52,395.20 L429.76,398.94 L430.00,402.97 L430.24,407.21 L430.48,411.56 L430.72,415.88 L430.96,419.92 L431.20,422.90 L435.85,422.90 L436.08,420.57 L436.30,417.55 L436.53,414.48 L436.75,411.59 L436.98,409.00 L437.20,406.80 L437.43,405.03 L437.65,403.74 L437.88,402.96 L438.10,402.70 L438.34,402.96 L438.59,403.74 L438.83,405.03 L439.07,406.80 L439.32,409.00 L439.56,411.59 L439.80,414.48 L440.04,417.55 L440.29,420.57 L440.53,422.90 L448.27,422.90 L448.51,419.97 L448.76,415.92 L449.00,411.46 L449.25,406.82 L449.49,402.15 L449.74,397.52 L449.98,393.00 L450.22,388.65 L450.47,384.50 L450.71,380.59 L450.96,376.94 L451.20,373.59 L451.45,370.54 L451.69,367.81 L451.93,365.43 L452.18,363.39 L452.42,361.71 L452.67,360.40 L452.91,359.46 L453.16,358.89 L453.40,358.70 L453.64,358.86 L453.89,359.33 L454.13,360.12 L454.37,361.21 L454.61,362.62 L454.86,364.32 L455.10,366.32 L455.34,368.61 L455.58,371.17 L455.83,374.01 L456.07,377.10 L456.31,380.42 L456.55,383.97 L456.80,387.73 L457.04,391.66 L457.28,395.73 L457.52,399.92 L457.77,404.18 L458.01,408.45 L458.25,412.65 L458.49,416.66 L458.74,420.29 L458.98,422.90 L469.67,422.90 L469.91,421.59 L470.15,419.82 L470.38,417.94 L470.62,416.06 L470.86,414.25 L471.10,412.55 L471.34,411.00 L471.57,409.61 L471.81,408.41 L472.05,407.41 L472.29,406.63 L472.52,406.06 L472.76,405.71 L473.00,405.60 L473.24,405.73 L473.48,406.13 L473.73,406.79 L473.97,407.70 L474.21,408.85 L474.45,410.23 L474.70,411.82 L474.94,413.58 L475.18,415.49 L475.42,417.50 L475.67,419.53 L475.91,421.46 L476.15,422.90 L480.70,422.90" stroke="#F9622E" stroke-width="1.02"/>
<path d="M32.50,406.30 L32.90,406.53 L33.30,407.04 L33.70,407.79 L34.10,408.71 L34.50,409.77 L34.90,410.92 L35.10,411.50 L35.30,412.20 L35.70,414.11 L36.10,416.56 L36.50,419.34 L36.90,422.24 L37.30,425.05 L37.70,427.57 L38.10,429.60 L38.20,430.00 L38.50,431.19 L38.90,432.78 L39.30,434.29 L39.70,435.60 L40.10,436.58 L40.50,437.13 L40.70,437.20 L40.90,437.11 L41.30,436.50 L41.70,435.40 L42.10,433.96 L42.50,432.31 L42.90,430.60 L43.30,428.95 L43.70,427.51 L44.11,426.41 L44.40,425.90 L44.51,425.77 L44.91,425.32 L45.31,424.92 L45.71,424.57 L46.11,424.24 L46.51,423.96 L46.91,423.69 L47.31,423.45 L47.71,423.23 L48.11,423.01 L48.50,422.80 L48.51,422.80 L48.91,422.58 L49.31,422.36 L49.71,422.13 L50.11,421.91 L50.51,421.70 L50.91,421.50 L51.31,421.31 L51.71,421.14 L52.11,420.99 L52.51,420.87 L52.91,420.78 L53.31,420.72 L53.70,420.70 L53.71,420.70 L54.11,420.76 L54.51,420.91 L54.91,421.14 L55.31,421.42 L55.71,421.72 L56.11,422.02 L56.51,422.31 L56.91,422.55 L57.31,422.72 L57.71,422.80 L57.80,422.80 L58.11,422.66 L58.51,422.14 L58.91,421.30 L59.31,420.24 L59.71,419.05 L60.11,417.82 L60.51,416.63 L60.90,415.60 L60.91,415.57 L61.31,414.47 L61.71,413.20 L62.11,411.87 L62.51,410.56 L62.91,409.41 L63.31,408.49 L63.71,407.93 L64.00,407.80 L64.11,407.84 L64.51,408.53 L64.91,409.95 L65.31,411.91 L65.71,414.21 L66.12,416.67 L66.52,419.09 L66.92,421.28 L67.00,421.70 L67.32,423.35 L67.72,425.76 L68.12,428.38 L68.52,431.05 L68.92,433.64 L69.32,436.00 L69.72,437.98 L70.12,439.43 L70.52,440.21 L70.70,440.30 L70.92,440.19 L71.32,439.48 L71.72,438.20 L72.12,436.47 L72.52,434.41 L72.92,432.15 L73.32,429.81 L73.72,427.50 L74.12,425.34 L74.52,423.46 L74.92,421.99 L75.32,421.02 L75.70,420.70 L75.72,420.70 L76.12,421.22 L76.52,422.56 L76.92,424.54 L77.32,426.95 L77.72,429.61 L78.12,432.34 L78.52,434.94 L78.92,437.22 L79.32,438.99 L79.72,440.06 L80.00,440.30 L80.12,440.24 L80.52,439.27 L80.92,437.26 L81.32,434.40 L81.72,430.88 L82.12,426.90 L82.52,422.63 L82.92,418.28 L83.32,414.04 L83.72,410.10 L84.12,406.64 L84.52,403.86 L84.92,401.96 L85.32,401.12 L85.40,401.10 L85.72,401.17 L86.12,401.43 L86.52,401.87 L86.92,402.48 L87.32,403.22 L87.72,404.08 L88.12,405.04 L88.53,406.08 L88.93,407.18 L89.33,408.31 L89.70,409.40 L89.73,409.48 L90.13,410.97 L90.53,412.95 L90.93,415.26 L91.33,417.75 L91.73,420.26 L92.13,422.63 L92.53,424.72 L92.80,425.90 L92.93,426.39 L93.33,427.86 L93.73,429.23 L94.13,430.52 L94.53,431.72 L94.93,432.85 L95.33,433.92 L95.73,434.93 L95.80,435.10 L96.13,435.93 L96.53,437.00 L96.93,438.07 L97.33,439.09 L97.73,439.98 L98.13,440.69 L98.53,441.15 L98.90,441.30 L98.93,441.30 L99.33,440.59 L99.73,438.98 L100.13,436.92 L100.53,434.87 L100.93,433.29 L101.00,433.10 L101.33,432.23 L101.73,431.20 L102.13,430.39 L102.53,430.01 L102.60,430.00 L102.93,430.52 L103.33,431.77 L103.70,432.40 L103.73,432.40 L104.13,431.93 L104.53,430.88 L104.93,429.56 L105.10,429.00 L105.33,428.18 L105.73,426.51 L106.13,424.51 L106.53,422.19 L106.93,419.54 L107.20,417.60 L107.33,416.45 L107.73,411.51 L108.13,404.98 L108.53,397.68 L108.93,390.44 L109.33,384.09 L109.73,379.45 L110.13,377.35 L110.20,377.30 L110.53,379.44 L110.94,386.52 L111.34,396.69 L111.74,408.03 L112.14,418.59 L112.50,425.90 L112.54,426.46 L112.94,432.98 L113.34,439.65 L113.74,446.08 L114.14,451.85 L114.54,456.58 L114.94,459.85 L115.34,461.27 L115.40,461.30 L115.74,460.39 L116.14,457.30 L116.54,452.58 L116.94,446.83 L117.34,440.67 L117.74,434.67 L118.14,429.45 L118.50,425.90 L118.54,425.60 L118.94,422.35 L119.34,419.04 L119.74,415.85 L120.14,412.94 L120.54,410.46 L120.94,408.60 L121.34,407.51 L121.60,407.30 L121.74,407.43 L122.14,409.05 L122.54,411.91 L122.94,415.23 L123.34,418.26 L123.60,419.70 L123.74,420.33 L124.14,422.21 L124.54,424.01 L124.94,425.53 L125.34,426.57 L125.70,426.90 L125.74,426.90 L126.14,426.44 L126.54,425.34 L126.94,423.79 L127.34,421.95 L127.74,420.00 L128.14,418.11 L128.54,416.46 L128.80,415.60 L128.94,415.15 L129.34,413.79 L129.74,412.74 L130.00,412.50 L130.14,412.83 L130.54,416.50 L130.94,422.29 L131.34,427.78 L131.60,430.00 L131.74,430.82 L132.14,433.00 L132.54,434.94 L132.94,436.49 L133.34,437.49 L133.70,437.80 L133.75,437.80 L134.15,437.39 L134.55,436.44 L134.95,435.09 L135.35,433.49 L135.75,431.77 L136.15,430.09 L136.55,428.58 L136.95,427.41 L137.20,426.90 L137.35,426.67 L137.75,426.11 L138.15,425.63 L138.55,425.20 L138.95,424.82 L139.35,424.48 L139.75,424.15 L140.15,423.84 L140.55,423.51 L140.95,423.17 L141.35,422.80 L141.75,422.38 L142.15,421.90 L142.30,421.70 L142.55,421.32 L142.95,420.54 L143.35,419.62 L143.75,418.60 L144.15,417.55 L144.55,416.51 L144.95,415.54 L145.35,414.70 L145.75,414.04 L146.15,413.62 L146.50,413.50 L146.55,413.51 L146.95,413.88 L147.35,414.71 L147.75,415.84 L148.15,417.07 L148.55,418.23 L148.95,419.15 L149.35,419.66 L149.50,419.70 L149.75,419.64 L150.15,419.33 L150.55,418.84 L150.95,418.24 L151.35,417.62 L151.75,417.06 L152.15,416.64 L152.20,416.60 L152.55,416.33 L152.95,416.02 L153.35,415.73 L153.75,415.48 L154.15,415.30 L154.55,415.21 L154.70,415.20 L154.95,415.31 L155.35,415.89 L155.75,416.86 L156.16,418.11 L156.56,419.53 L156.96,421.00 L157.36,422.42 L157.76,423.68 L157.80,423.80 L158.16,424.83 L158.56,426.10 L158.96,427.45 L159.36,428.86 L159.76,430.31 L160.16,431.76 L160.56,433.19 L160.96,434.58 L161.36,435.89 L161.76,437.09 L162.16,438.17 L162.56,439.09 L162.96,439.83 L163.36,440.36 L163.76,440.65 L164.00,440.70 L164.16,440.66 L164.56,440.25 L164.96,439.41 L165.36,438.21 L165.76,436.69 L166.16,434.91 L166.56,432.90 L166.96,430.73 L167.36,428.44 L167.76,426.08 L168.16,423.70 L168.56,421.36 L168.96,419.10 L169.36,416.97 L169.76,415.03 L170.16,413.32 L170.56,411.89 L170.96,410.79 L171.36,410.08 L171.76,409.80 L171.80,409.80 L172.16,409.89 L172.56,410.18 L172.96,410.66 L173.36,411.30 L173.76,412.10 L174.16,413.03 L174.56,414.08 L174.96,415.23 L175.36,416.46 L175.76,417.75 L176.16,419.09 L176.56,420.46 L176.96,421.85 L177.36,423.22 L177.76,424.58 L178.16,425.90 L178.57,427.16 L178.97,428.34 L179.37,429.43 L179.77,430.42 L180.17,431.28 L180.57,431.99 L180.97,432.54 L181.37,432.91 L181.77,433.09 L181.90,433.10 L182.17,433.06 L182.57,432.85 L182.97,432.48 L183.37,431.97 L183.77,431.33 L184.17,430.59 L184.57,429.77 L184.97,428.88 L185.37,427.94 L185.77,426.97 L186.17,425.99 L186.57,425.01 L186.97,424.07 L187.37,423.17 L187.77,422.33 L188.17,421.58 L188.57,420.93 L188.97,420.39 L189.37,420.00 L189.77,419.76 L190.10,419.70 L190.17,419.70 L190.57,419.90 L190.97,420.35 L191.37,421.01 L191.77,421.84 L192.17,422.79 L192.57,423.83 L192.97,424.91 L193.37,425.98 L193.77,427.02 L194.17,427.96 L194.57,428.77 L194.97,429.41 L195.37,429.84 L195.77,430.00 L195.80,430.00 L196.17,429.78 L196.57,429.10 L196.97,428.02 L197.37,426.60 L197.77,424.91 L198.17,423.01 L198.57,420.96 L198.97,418.83 L199.37,416.68 L199.77,414.57 L200.17,412.57 L200.58,410.73 L200.98,409.14 L201.38,407.84 L201.78,406.90 L202.18,406.38 L202.40,406.30 L202.58,406.34 L202.98,406.70 L203.38,407.42 L203.78,408.47 L204.18,409.80 L204.58,411.38 L204.98,413.19 L205.38,415.18 L205.78,417.32 L206.18,419.58 L206.58,421.92 L206.98,424.31 L207.38,426.72 L207.78,429.11 L208.18,431.44 L208.58,433.68 L208.98,435.81 L209.38,437.77 L209.78,439.55 L210.18,441.10 L210.58,442.40 L210.98,443.40 L211.38,444.07 L211.78,444.38 L211.90,444.40 L212.18,444.06 L212.58,442.56 L212.98,440.09 L213.38,436.94 L213.78,433.40 L214.18,429.74 L214.58,426.24 L214.98,423.18 L215.38,420.84 L215.78,419.51 L216.00,419.30 L216.18,419.43 L216.58,420.55 L216.98,422.55 L217.38,425.13 L217.78,427.99 L218.18,430.82 L218.58,433.33 L218.98,435.20 L219.38,436.14 L219.50,436.20 L219.78,435.94 L220.18,434.77 L220.58,432.78 L220.98,430.15 L221.38,427.01 L221.78,423.51 L222.18,419.83 L222.58,416.10 L222.99,412.47 L223.39,409.11 L223.79,406.17 L224.19,403.79 L224.59,402.13 L224.99,401.34 L225.10,401.30 L225.39,401.47 L225.79,402.20 L226.19,403.35 L226.59,404.75 L226.99,406.24 L227.39,407.64 L227.79,408.79 L228.10,409.40 L228.19,409.52 L228.59,410.00 L228.99,410.37 L229.39,410.67 L229.79,410.96 L230.19,411.27 L230.59,411.66 L230.99,412.17 L231.20,412.50 L231.39,412.93 L231.79,414.49 L232.19,416.72 L232.59,419.38 L232.99,422.24 L233.39,425.05 L233.79,427.58 L234.19,429.57 L234.30,430.00 L234.59,431.05 L234.99,432.50 L235.39,433.93 L235.79,435.33 L236.19,436.65 L236.59,437.89 L236.99,439.00 L237.39,439.97 L237.79,440.77 L238.19,441.38 L238.59,441.76 L238.99,441.90 L239.00,441.90 L239.39,441.62 L239.79,440.86 L240.19,439.71 L240.59,438.32 L240.99,436.80 L241.39,435.27 L241.79,433.85 L242.19,432.67 L242.50,432.00 L242.59,431.84 L242.99,431.25 L243.39,430.78 L243.79,430.39 L244.19,430.00 L244.59,429.57 L244.99,429.03 L245.40,428.34 L245.60,427.90 L245.80,427.35 L246.20,425.66 L246.60,423.31 L247.00,420.48 L247.40,417.30 L247.60,415.60 L247.80,413.60 L248.20,407.78 L248.60,400.46 L249.00,392.72 L249.40,385.60 L249.80,380.15 L250.20,377.43 L250.30,377.30 L250.60,378.73 L251.00,384.45 L251.40,393.15 L251.80,403.37 L252.20,413.63 L252.60,422.46 L252.80,425.90 L253.00,428.93 L253.40,435.32 L253.80,441.79 L254.20,447.99 L254.60,453.55 L255.00,458.11 L255.40,461.33 L255.80,462.83 L255.90,462.90 L256.20,461.62 L256.60,456.66 L257.00,449.28 L257.40,440.92 L257.80,433.00 L258.20,426.95 L258.30,425.90 L258.60,423.04 L259.00,419.25 L259.40,415.62 L259.80,412.31 L260.20,409.47 L260.60,407.25 L261.00,405.81 L261.40,405.30 L261.40,405.30 L261.80,405.84 L262.20,407.28 L262.60,409.37 L263.00,411.87 L263.40,414.52 L263.80,417.07 L264.20,419.28 L264.60,420.89 L265.00,421.67 L265.10,421.70 L265.40,421.62 L265.80,421.31 L266.20,420.83 L266.60,420.27 L267.00,419.69 L267.40,419.19 L267.81,418.83 L268.20,418.70 L268.21,418.70 L268.61,419.02 L269.01,419.86 L269.41,421.09 L269.81,422.57 L270.21,424.15 L270.61,425.70 L271.01,427.08 L271.30,427.90 L271.41,428.16 L271.81,429.19 L272.21,430.26 L272.61,431.35 L273.01,432.43 L273.41,433.49 L273.81,434.50 L274.21,435.44 L274.61,436.28 L275.01,436.99 L275.41,437.56 L275.81,437.96 L276.21,438.17 L276.40,438.20 L276.61,438.11 L277.01,437.49 L277.41,436.37 L277.81,434.85 L278.21,433.03 L278.61,431.01 L279.01,428.91 L279.41,426.82 L279.81,424.85 L280.21,423.10 L280.60,421.70 L280.61,421.67 L281.01,420.39 L281.41,419.05 L281.81,417.69 L282.21,416.32 L282.61,414.97 L283.01,413.66 L283.41,412.43 L283.81,411.29 L284.21,410.27 L284.61,409.39 L285.01,408.68 L285.41,408.16 L285.81,407.87 L286.10,407.80 L286.21,407.84 L286.61,408.52 L287.01,409.90 L287.41,411.78 L287.81,413.93 L288.21,416.16 L288.61,418.26 L289.01,420.03 L289.41,421.24 L289.80,421.70 L289.81,421.70 L290.22,421.75 L290.62,421.79 L291.02,421.82 L291.42,421.85 L291.82,421.87 L292.22,421.89 L292.62,421.90 L292.90,421.90 L293.02,421.88 L293.42,421.51 L293.82,420.76 L294.22,419.76 L294.62,418.60 L295.02,417.40 L295.42,416.28 L295.82,415.35 L296.22,414.72 L296.60,414.50 L296.62,414.50 L297.02,415.24 L297.42,417.06 L297.82,419.58 L298.22,422.42 L298.62,425.20 L299.02,427.52 L299.10,427.90 L299.42,429.37 L299.82,431.31 L300.22,433.31 L300.62,435.32 L301.02,437.28 L301.42,439.15 L301.82,440.86 L302.22,442.38 L302.62,443.64 L303.02,444.60 L303.42,445.20 L303.80,445.40 L303.82,445.40 L304.22,444.73 L304.62,443.02 L305.02,440.49 L305.42,437.37 L305.82,433.90 L306.22,430.29 L306.62,426.78 L307.02,423.60 L307.30,421.70 L307.42,420.91 L307.82,418.07 L308.22,414.99 L308.62,411.90 L309.02,409.01 L309.42,406.54 L309.82,404.70 L310.22,403.71 L310.40,403.60 L310.62,403.68 L311.02,404.17 L311.42,405.05 L311.82,406.26 L312.22,407.72 L312.62,409.38 L313.03,411.15 L313.43,412.97 L313.83,414.78 L314.23,416.50 L314.50,417.60 L314.63,418.10 L315.03,419.88 L315.43,421.86 L315.83,423.93 L316.23,425.95 L316.63,427.83 L317.03,429.42 L317.43,430.63 L317.60,431.00 L317.83,431.42 L318.23,432.12 L318.63,432.76 L319.03,433.29 L319.43,433.68 L319.83,433.88 L320.00,433.90 L320.23,433.88 L320.63,433.77 L321.03,433.57 L321.43,433.28 L321.83,432.92 L322.23,432.50 L322.63,432.02 L323.03,431.50 L323.43,430.96 L323.83,430.39 L324.10,430.00 L324.23,429.79 L324.63,428.96 L325.03,427.88 L325.43,426.61 L325.83,425.21 L326.23,423.74 L326.63,422.26 L327.03,420.85 L327.43,419.54 L327.83,418.42 L328.20,417.60 L328.23,417.54 L328.63,416.74 L329.03,415.94 L329.43,415.25 L329.83,414.74 L330.23,414.51 L330.30,414.50 L330.63,414.87 L331.03,416.10 L331.43,417.85 L331.83,419.75 L332.23,421.46 L332.30,421.70 L332.63,422.95 L333.03,424.61 L333.43,426.38 L333.83,428.16 L334.23,429.86 L334.63,431.39 L335.04,432.66 L335.44,433.58 L335.84,434.05 L336.00,434.10 L336.24,433.93 L336.64,432.93 L337.04,431.19 L337.44,428.91 L337.84,426.28 L338.24,423.47 L338.64,420.68 L339.04,418.09 L339.44,415.90 L339.50,415.60 L339.84,413.96 L340.24,411.85 L340.64,409.66 L341.04,407.52 L341.44,405.52 L341.84,403.79 L342.24,402.44 L342.64,401.57 L343.00,401.30 L343.04,401.31 L343.44,401.99 L343.84,403.63 L344.24,405.94 L344.64,408.64 L345.04,411.46 L345.44,414.10 L345.70,415.60 L345.84,416.36 L346.24,418.70 L346.64,421.20 L347.04,423.72 L347.44,426.15 L347.84,428.36 L348.24,430.22 L348.64,431.61 L348.80,432.00 L349.04,432.51 L349.44,433.34 L349.84,434.09 L350.24,434.77 L350.64,435.34 L351.04,435.78 L351.44,436.08 L351.84,436.20 L351.90,436.20 L352.24,435.95 L352.64,435.13 L353.04,433.85 L353.44,432.25 L353.84,430.48 L354.24,428.68 L354.64,426.97 L355.04,425.51 L355.44,424.42 L355.84,423.85 L356.00,423.80 L356.24,423.94 L356.64,424.70 L357.04,426.00 L357.44,427.71 L357.85,429.70 L358.25,431.83 L358.65,433.95 L359.05,435.94 L359.45,437.66 L359.85,438.98 L360.25,439.75 L360.50,439.90 L360.65,439.77 L361.05,438.24 L361.45,435.38 L361.85,431.69 L362.25,427.67 L362.65,423.82 L363.05,420.63 L363.20,419.70 L363.45,418.30 L363.85,415.95 L364.25,413.61 L364.65,411.39 L365.05,409.43 L365.45,407.84 L365.85,406.76 L366.25,406.31 L366.30,406.30 L366.65,406.53 L367.05,407.20 L367.45,408.07 L367.85,408.87 L368.25,409.35 L368.40,409.40 L368.65,409.36 L369.05,409.15 L369.45,408.83 L369.85,408.46 L370.25,408.12 L370.65,407.88 L371.00,407.80 L371.05,407.81 L371.45,408.21 L371.85,409.15 L372.25,410.49 L372.65,412.08 L373.05,413.76 L373.45,415.41 L373.50,415.60 L373.85,417.11 L374.25,419.11 L374.65,421.32 L375.05,423.64 L375.45,425.99 L375.85,428.27 L376.25,430.38 L376.60,432.00 L376.65,432.23 L377.05,434.08 L377.45,436.03 L377.85,437.99 L378.25,439.87 L378.65,441.57 L379.05,443.01 L379.45,444.08 L379.86,444.69 L380.10,444.80 L380.26,444.66 L380.66,443.13 L381.06,440.34 L381.46,436.78 L381.86,432.98 L382.26,429.42 L382.66,426.62 L382.80,425.90 L383.06,424.74 L383.46,422.93 L383.86,421.28 L384.26,420.02 L384.66,419.35 L384.80,419.30 L385.06,419.70 L385.46,421.56 L385.86,424.20 L386.26,426.83 L386.66,428.64 L386.90,429.00 L387.06,428.95 L387.46,428.40 L387.86,427.39 L388.26,426.05 L388.30,425.90 L388.66,423.46 L389.06,418.74 L389.46,412.95 L389.86,407.14 L390.00,405.30 L390.26,401.51 L390.66,394.72 L391.06,389.10 L391.40,387.20 L391.46,387.29 L391.86,391.54 L392.26,399.93 L392.66,409.28 L393.00,415.60 L393.06,416.48 L393.46,422.52 L393.86,428.79 L394.26,435.01 L394.66,440.91 L395.06,446.21 L395.46,450.64 L395.86,453.92 L396.26,455.78 L396.50,456.10 L396.66,455.85 L397.06,453.39 L397.46,448.94 L397.86,443.29 L398.26,437.22 L398.66,431.54 L399.06,427.03 L399.20,425.90 L399.46,423.93 L399.86,420.88 L400.26,417.94 L400.66,415.27 L401.06,413.05 L401.46,411.45 L401.86,410.66 L402.00,410.60 L402.26,410.75 L402.67,411.42 L403.07,412.38 L403.47,413.36 L403.87,414.09 L404.10,414.30 L404.27,414.37 L404.67,414.48 L405.07,414.56 L405.47,414.62 L405.87,414.69 L406.27,414.78 L406.60,414.90 L406.67,414.93 L407.07,415.29 L407.47,415.88 L407.87,416.62 L408.27,417.46 L408.67,418.33 L409.07,419.15 L409.20,419.40 L409.47,419.88 L409.87,420.55 L410.27,421.20 L410.67,421.88 L411.07,422.60 L411.47,423.40 L411.87,424.33 L412.27,425.41 L412.30,425.50 L412.67,427.04 L413.07,429.54 L413.47,432.66 L413.87,436.10 L414.27,439.61 L414.67,442.91 L415.07,445.73 L415.47,447.79 L415.87,448.83 L416.00,448.90 L416.27,448.57 L416.67,447.01 L417.07,444.48 L417.47,441.31 L417.87,437.84 L418.27,434.38 L418.67,431.27 L419.07,428.85 L419.40,427.60 L419.47,427.42 L419.87,426.53 L420.27,425.82 L420.67,425.22 L421.07,424.69 L421.47,424.17 L421.87,423.61 L422.27,422.94 L422.50,422.50 L422.67,422.11 L423.07,421.02 L423.47,419.71 L423.87,418.24 L424.27,416.66 L424.68,415.04 L425.08,413.43 L425.48,411.88 L425.88,410.46 L426.28,409.23 L426.68,408.24 L427.08,407.55 L427.48,407.22 L427.60,407.20 L427.88,407.39 L428.28,408.26 L428.68,409.65 L429.08,411.36 L429.48,413.21 L429.88,414.98 L430.28,416.50 L430.60,417.40 L430.68,417.57 L431.08,418.49 L431.48,419.40 L431.88,420.27 L432.28,421.05 L432.68,421.71 L433.08,422.19 L433.48,422.46 L433.70,422.50 L433.88,422.46 L434.28,422.11 L434.68,421.48 L435.08,420.63 L435.48,419.66 L435.88,418.64 L436.28,417.66 L436.68,416.80 L437.08,416.14 L437.48,415.76 L437.70,415.70 L437.88,415.77 L438.28,416.40 L438.68,417.57 L439.08,419.16 L439.48,421.03 L439.88,423.05 L440.28,425.11 L440.68,427.06 L440.80,427.60 L441.08,429.00 L441.48,431.38 L441.88,434.08 L442.28,436.97 L442.68,439.90 L443.08,442.71 L443.48,445.26 L443.88,447.40 L444.28,448.99 L444.68,449.87 L444.90,450.00 L445.08,449.73 L445.48,447.46 L445.88,443.41 L446.28,438.18 L446.68,432.36 L447.09,426.58 L447.49,421.42 L447.89,417.51 L447.90,417.40 L448.29,414.41 L448.69,411.23 L449.09,408.13 L449.49,405.28 L449.89,402.83 L450.29,400.95 L450.69,399.80 L451.00,399.50 L451.09,399.52 L451.49,399.95 L451.89,400.89 L452.29,402.20 L452.69,403.78 L453.09,405.48 L453.49,407.19 L453.89,408.79 L454.00,409.20 L454.29,410.24 L454.69,411.75 L455.09,413.30 L455.49,414.90 L455.89,416.52 L456.29,418.17 L456.69,419.81 L457.09,421.46 L457.10,421.50 L457.49,423.26 L457.89,425.34 L458.29,427.56 L458.69,429.80 L459.09,431.93 L459.49,433.81 L459.89,435.32 L460.29,436.32 L460.69,436.70 L460.70,436.70 L461.09,435.85 L461.49,433.58 L461.89,430.48 L462.29,427.11 L462.69,424.05 L463.09,421.86 L463.20,421.50 L463.49,420.67 L463.89,419.59 L464.29,418.63 L464.69,417.83 L465.09,417.28 L465.49,417.01 L465.60,417.00 L465.89,417.16 L466.29,417.82 L466.69,418.84 L467.09,420.07 L467.49,421.36 L467.89,422.55 L468.29,423.49 L468.30,423.50 L468.69,424.27 L469.09,425.08 L469.50,425.90 L469.90,426.72 L470.30,427.50 L470.70,428.24 L471.10,428.92 L471.50,429.50 L471.90,429.98 L472.30,430.34 L472.70,430.55 L473.00,430.60 L473.10,430.60 L473.50,430.51 L473.90,430.33 L474.30,430.04 L474.70,429.67 L475.10,429.23 L475.50,428.72 L475.90,428.15 L476.30,427.54 L476.70,426.88 L477.10,426.20 L477.50,425.50 L477.50,425.50 L477.90,424.68 L478.30,423.63 L478.70,422.39 L479.10,420.99 L479.50,419.45 L479.90,417.80 L480.30,416.08 L480.70,414.30" stroke="#050505" stroke-width="1.05"/>
<path d="M32.50,427.90 L32.90,427.90 L33.31,427.90 L33.71,427.90 L34.11,427.90 L34.51,427.90 L34.92,427.90 L35.32,427.90 L35.72,427.90 L36.12,427.90 L36.53,427.90 L36.93,427.90 L37.33,427.90 L37.74,427.90 L38.14,427.90 L38.54,427.90 L38.94,427.90 L39.30,427.90 L39.35,427.90 L39.75,427.97 L40.15,428.12 L40.55,428.32 L40.96,428.54 L41.36,428.74 L41.76,428.91 L42.17,428.99 L42.30,429.00 L42.57,428.96 L42.97,428.78 L43.37,428.47 L43.78,428.04 L44.18,427.52 L44.58,426.93 L44.98,426.29 L45.39,425.62 L45.79,424.95 L46.19,424.28 L46.50,423.80 L46.60,423.65 L47.00,422.96 L47.40,422.19 L47.80,421.35 L48.21,420.47 L48.61,419.58 L49.01,418.69 L49.42,417.82 L49.82,416.99 L50.22,416.23 L50.60,415.60 L50.62,415.56 L51.03,414.91 L51.43,414.23 L51.83,413.54 L52.23,412.86 L52.64,412.22 L53.04,411.65 L53.44,411.15 L53.85,410.76 L54.25,410.51 L54.65,410.40 L54.70,410.40 L55.05,410.49 L55.46,410.80 L55.86,411.30 L56.26,411.95 L56.66,412.72 L57.07,413.59 L57.47,414.52 L57.87,415.47 L58.28,416.42 L58.68,417.34 L58.80,417.60 L59.08,418.23 L59.48,419.21 L59.89,420.27 L60.29,421.38 L60.69,422.52 L61.09,423.67 L61.50,424.80 L61.90,425.90 L61.90,425.90 L62.30,427.02 L62.71,428.22 L63.11,429.44 L63.51,430.63 L63.91,431.76 L64.32,432.78 L64.72,433.63 L65.00,434.10 L65.12,434.28 L65.52,434.85 L65.93,435.39 L66.33,435.89 L66.73,436.32 L67.14,436.69 L67.54,436.98 L67.94,437.18 L68.00,437.20 L68.34,437.32 L68.75,437.45 L69.15,437.57 L69.55,437.68 L69.95,437.78 L70.36,437.87 L70.76,437.96 L71.16,438.03 L71.57,438.09 L71.97,438.14 L72.37,438.17 L72.77,438.19 L73.18,438.20 L73.20,438.20 L73.58,438.20 L73.98,438.20 L74.38,438.20 L74.79,438.20 L75.19,438.20 L75.59,438.20 L76.00,438.20 L76.40,438.20 L76.80,438.20 L77.20,438.20 L77.61,438.20 L78.01,438.20 L78.41,438.20 L78.82,438.20 L79.22,438.20 L79.40,438.20 L79.62,438.20 L80.02,438.23 L80.43,438.29 L80.83,438.36 L81.23,438.45 L81.63,438.56 L82.04,438.69 L82.44,438.82 L82.84,438.96 L83.25,439.11 L83.50,439.20 L83.65,439.26 L84.05,439.51 L84.45,439.84 L84.86,440.21 L85.26,440.58 L85.66,440.91 L86.06,441.16 L86.47,441.29 L86.60,441.30 L86.87,441.15 L87.27,440.41 L87.68,439.21 L88.00,438.00 L88.08,437.61 L88.48,433.04 L88.88,424.46 L89.29,412.21 L89.69,396.63 L90.09,378.06 L90.49,356.84 L90.90,333.31 L91.30,307.80 L91.70,358.08 L92.10,399.66 L92.50,429.47 L92.70,439.00 L92.90,445.70 L93.30,455.47 L93.70,463.60 L94.10,471.99 L94.50,479.87 L94.90,487.12 L95.30,493.60 L95.70,487.35 L96.10,480.82 L96.50,474.05 L96.90,467.08 L97.10,463.60 L97.30,459.65 L97.71,451.27 L98.10,444.70 L98.11,444.63 L98.51,440.28 L98.90,437.50 L98.91,437.46 L99.31,435.94 L99.71,434.87 L100.00,434.30 L100.11,434.11 L100.51,433.44 L100.91,432.84 L101.31,432.36 L101.71,432.07 L102.00,432.00 L102.11,432.02 L102.52,432.38 L102.92,433.01 L103.32,433.72 L103.72,434.28 L104.10,434.50 L104.12,434.50 L104.52,434.38 L104.92,434.11 L105.32,433.75 L105.72,433.38 L106.10,433.10 L106.12,433.09 L106.52,432.85 L106.93,432.63 L107.33,432.42 L107.73,432.22 L108.13,432.02 L108.53,431.84 L108.93,431.65 L109.33,431.47 L109.73,431.28 L110.13,431.10 L110.53,430.91 L110.93,430.72 L111.34,430.52 L111.74,430.31 L112.14,430.09 L112.30,430.00 L112.54,429.86 L112.94,429.63 L113.34,429.38 L113.74,429.13 L114.14,428.87 L114.54,428.61 L114.94,428.34 L115.34,428.07 L115.75,427.79 L116.15,427.51 L116.55,427.24 L116.95,426.96 L117.35,426.68 L117.75,426.41 L118.15,426.14 L118.50,425.90 L118.55,425.87 L118.95,425.60 L119.35,425.35 L119.75,425.10 L120.15,424.86 L120.56,424.62 L120.96,424.38 L121.36,424.14 L121.76,423.89 L122.16,423.63 L122.56,423.37 L122.96,423.09 L123.36,422.80 L123.76,422.49 L124.16,422.17 L124.56,421.82 L124.70,421.70 L124.97,421.45 L125.37,421.03 L125.77,420.57 L126.17,420.07 L126.57,419.55 L126.97,419.00 L127.37,418.42 L127.77,417.83 L128.17,417.23 L128.57,416.63 L128.97,416.02 L129.38,415.42 L129.78,414.83 L130.00,414.50 L130.18,414.24 L130.58,413.61 L130.98,412.94 L131.38,412.24 L131.78,411.51 L132.18,410.77 L132.58,410.03 L132.98,409.30 L133.38,408.58 L133.78,407.90 L134.19,407.25 L134.59,406.64 L134.99,406.10 L135.39,405.62 L135.79,405.22 L136.19,404.91 L136.20,404.90 L136.59,404.65 L136.99,404.39 L137.39,404.14 L137.79,403.90 L138.19,403.66 L138.60,403.43 L139.00,403.21 L139.40,403.00 L139.80,402.81 L140.20,402.62 L140.60,402.45 L141.00,402.29 L141.40,402.14 L141.80,402.01 L142.20,401.90 L142.60,401.80 L143.00,401.72 L143.41,401.66 L143.81,401.62 L144.21,401.60 L144.40,401.60 L144.61,401.62 L145.01,401.73 L145.41,401.93 L145.81,402.22 L146.21,402.57 L146.61,402.99 L147.01,403.44 L147.41,403.93 L147.82,404.43 L148.22,404.94 L148.50,405.30 L148.62,405.45 L149.02,406.04 L149.42,406.72 L149.82,407.48 L150.22,408.30 L150.62,409.17 L151.02,410.06 L151.42,410.97 L151.82,411.86 L152.23,412.73 L152.60,413.50 L152.63,413.55 L153.03,414.37 L153.43,415.22 L153.83,416.08 L154.23,416.94 L154.63,417.80 L155.03,418.64 L155.43,419.45 L155.83,420.22 L156.23,420.94 L156.63,421.60 L156.70,421.70 L157.04,422.22 L157.44,422.86 L157.84,423.50 L158.24,424.12 L158.64,424.72 L159.04,425.27 L159.44,425.77 L159.84,426.20 L160.24,426.55 L160.64,426.80 L160.90,426.90 L161.04,426.94 L161.45,427.06 L161.85,427.17 L162.25,427.27 L162.65,427.37 L163.05,427.46 L163.45,427.54 L163.85,427.61 L164.25,427.68 L164.65,427.74 L165.05,427.79 L165.45,427.83 L165.86,427.86 L166.26,427.88 L166.66,427.90 L167.00,427.90 L167.06,427.90 L167.46,427.89 L167.86,427.88 L168.26,427.86 L168.66,427.83 L169.06,427.80 L169.46,427.76 L169.86,427.71 L170.26,427.66 L170.67,427.61 L171.07,427.56 L171.47,427.50 L171.87,427.44 L172.27,427.38 L172.67,427.32 L173.07,427.27 L173.47,427.21 L173.87,427.16 L174.27,427.11 L174.67,427.06 L175.08,427.02 L175.48,426.98 L175.88,426.95 L176.28,426.93 L176.68,426.91 L177.08,426.90 L177.30,426.90 L177.48,426.90 L177.88,426.90 L178.28,426.90 L178.68,426.90 L179.08,426.90 L179.49,426.90 L179.89,426.90 L180.29,426.90 L180.69,426.90 L181.09,426.90 L181.49,426.90 L181.89,426.90 L182.29,426.90 L182.69,426.90 L183.09,426.90 L183.49,426.90 L183.90,426.90 L184.30,426.90 L184.70,426.90 L185.10,426.90 L185.50,426.90 L185.60,426.90 L185.90,426.85 L186.30,426.61 L186.70,426.22 L187.10,425.69 L187.50,425.06 L187.90,424.33 L188.30,423.55 L188.71,422.73 L189.11,421.90 L189.51,421.08 L189.70,420.70 L189.91,420.26 L190.31,419.28 L190.71,418.16 L191.11,416.96 L191.51,415.75 L191.91,414.59 L192.31,413.54 L192.71,412.66 L192.80,412.50 L193.12,411.92 L193.52,411.16 L193.92,410.43 L194.32,409.75 L194.72,409.17 L195.12,408.72 L195.52,408.46 L195.80,408.40 L195.92,408.42 L196.32,408.69 L196.72,409.24 L197.12,410.02 L197.53,410.95 L197.93,411.98 L198.33,413.05 L198.73,414.08 L198.90,414.50 L199.13,415.07 L199.53,416.18 L199.93,417.39 L200.33,418.67 L200.73,419.97 L201.13,421.26 L201.53,422.49 L201.93,423.63 L202.00,423.80 L202.34,424.70 L202.74,425.79 L203.14,426.88 L203.54,427.93 L203.94,428.91 L204.34,429.78 L204.74,430.50 L205.10,431.00 L205.14,431.05 L205.54,431.49 L205.94,431.88 L206.34,432.23 L206.75,432.55 L207.15,432.83 L207.55,433.10 L207.95,433.35 L208.35,433.59 L208.75,433.83 L209.15,434.07 L209.20,434.10 L209.55,434.31 L209.95,434.56 L210.35,434.79 L210.75,435.02 L211.16,435.23 L211.56,435.42 L211.96,435.58 L212.30,435.70 L212.36,435.72 L212.76,435.84 L213.16,435.95 L213.56,436.05 L213.96,436.14 L214.36,436.22 L214.76,436.30 L215.16,436.38 L215.56,436.45 L215.97,436.52 L216.37,436.59 L216.40,436.60 L216.77,436.66 L217.17,436.72 L217.57,436.77 L217.97,436.82 L218.37,436.86 L218.77,436.91 L219.17,436.97 L219.57,437.02 L219.97,437.09 L220.38,437.17 L220.50,437.20 L220.78,437.27 L221.18,437.39 L221.58,437.53 L221.98,437.69 L222.38,437.88 L222.78,438.10 L223.18,438.33 L223.58,438.59 L223.60,438.60 L223.98,438.97 L224.38,439.55 L224.79,440.24 L225.19,440.98 L225.59,441.67 L225.99,442.23 L226.39,442.60 L226.70,442.70 L226.79,442.68 L227.19,442.16 L227.59,441.04 L227.99,439.45 L228.30,438.00 L228.39,437.43 L228.79,432.44 L229.19,423.64 L229.60,411.37 L230.00,395.98 L230.40,377.80 L230.80,357.18 L231.20,334.47 L231.60,310.00 L232.02,348.16 L232.44,381.38 L232.86,409.02 L233.28,430.46 L233.50,439.00 L233.70,445.20 L234.12,455.22 L234.50,463.60 L234.54,464.56 L234.96,474.55 L235.38,484.37 L235.80,494.00 L236.20,486.06 L236.60,478.35 L237.00,470.84 L237.40,463.60 L237.40,463.54 L237.80,456.04 L238.21,448.91 L238.50,444.70 L238.61,443.44 L239.01,439.32 L239.20,438.00 L239.41,436.92 L239.81,435.25 L240.10,434.80 L240.21,434.81 L240.61,434.96 L241.01,435.25 L241.41,435.60 L241.81,435.92 L242.21,436.15 L242.50,436.20 L242.61,436.19 L243.02,435.96 L243.42,435.56 L243.82,435.09 L244.22,434.68 L244.50,434.50 L244.62,434.45 L245.02,434.29 L245.42,434.15 L245.82,434.04 L246.22,433.93 L246.62,433.84 L247.02,433.75 L247.43,433.67 L247.83,433.59 L248.23,433.50 L248.63,433.41 L249.03,433.31 L249.43,433.19 L249.70,433.10 L249.83,433.05 L250.23,432.91 L250.63,432.75 L251.03,432.58 L251.43,432.40 L251.84,432.21 L252.24,432.01 L252.64,431.81 L253.04,431.60 L253.44,431.39 L253.84,431.17 L254.24,430.95 L254.64,430.72 L255.04,430.49 L255.44,430.26 L255.84,430.03 L255.90,430.00 L256.24,429.80 L256.65,429.57 L257.05,429.34 L257.45,429.10 L257.85,428.86 L258.25,428.61 L258.65,428.35 L259.05,428.10 L259.45,427.83 L259.85,427.55 L260.25,427.27 L260.65,426.97 L261.06,426.67 L261.46,426.35 L261.86,426.02 L262.00,425.90 L262.26,425.67 L262.66,425.30 L263.06,424.91 L263.46,424.49 L263.86,424.05 L264.26,423.60 L264.66,423.13 L265.06,422.65 L265.46,422.16 L265.87,421.66 L266.27,421.15 L266.67,420.64 L267.07,420.13 L267.47,419.62 L267.87,419.11 L268.20,418.70 L268.27,418.61 L268.67,418.09 L269.07,417.55 L269.47,416.99 L269.87,416.42 L270.28,415.84 L270.68,415.25 L271.08,414.66 L271.48,414.08 L271.88,413.50 L272.28,412.94 L272.68,412.40 L273.08,411.88 L273.48,411.39 L273.88,410.93 L274.28,410.51 L274.40,410.40 L274.69,410.13 L275.09,409.75 L275.49,409.38 L275.89,409.02 L276.29,408.68 L276.69,408.34 L277.09,408.01 L277.49,407.70 L277.89,407.40 L278.29,407.11 L278.69,406.83 L279.09,406.56 L279.50,406.31 L279.90,406.08 L280.30,405.86 L280.60,405.70 L280.70,405.65 L281.10,405.44 L281.50,405.23 L281.90,405.02 L282.30,404.81 L282.70,404.61 L283.10,404.42 L283.50,404.24 L283.91,404.07 L284.31,403.93 L284.71,403.80 L285.11,403.71 L285.51,403.64 L285.91,403.60 L286.10,403.60 L286.31,403.62 L286.71,403.79 L287.11,404.11 L287.51,404.55 L287.91,405.10 L288.31,405.74 L288.72,406.44 L289.12,407.19 L289.52,407.97 L289.92,408.75 L290.32,409.52 L290.72,410.26 L290.80,410.40 L291.12,410.99 L291.52,411.80 L291.92,412.67 L292.32,413.58 L292.72,414.53 L293.13,415.48 L293.53,416.44 L293.93,417.38 L294.33,418.29 L294.73,419.15 L295.00,419.70 L295.13,419.96 L295.53,420.76 L295.93,421.57 L296.33,422.38 L296.73,423.18 L297.13,423.95 L297.54,424.68 L297.94,425.35 L298.34,425.96 L298.74,426.50 L299.10,426.90 L299.14,426.94 L299.54,427.34 L299.94,427.74 L300.34,428.13 L300.74,428.51 L301.14,428.87 L301.54,429.21 L301.94,429.51 L302.35,429.78 L302.75,430.01 L303.15,430.19 L303.55,430.32 L303.95,430.39 L304.20,430.40 L304.35,430.40 L304.75,430.40 L305.15,430.40 L305.55,430.40 L305.95,430.40 L306.35,430.40 L306.76,430.40 L307.16,430.40 L307.56,430.40 L307.96,430.40 L308.36,430.40 L308.76,430.40 L309.16,430.40 L309.56,430.40 L309.96,430.40 L310.36,430.40 L310.76,430.40 L311.16,430.40 L311.40,430.40 L311.57,430.40 L311.97,430.38 L312.37,430.35 L312.77,430.29 L313.17,430.23 L313.57,430.15 L313.97,430.06 L314.37,429.96 L314.77,429.85 L315.17,429.74 L315.57,429.62 L315.98,429.49 L316.38,429.37 L316.78,429.25 L317.18,429.12 L317.58,429.01 L317.60,429.00 L317.98,428.89 L318.38,428.78 L318.78,428.66 L319.18,428.55 L319.58,428.43 L319.98,428.30 L320.39,428.18 L320.79,428.04 L321.19,427.90 L321.59,427.75 L321.99,427.59 L322.39,427.42 L322.79,427.24 L323.19,427.05 L323.59,426.84 L323.99,426.61 L324.39,426.37 L324.79,426.11 L325.10,425.90 L325.20,425.83 L325.60,425.44 L326.00,424.92 L326.40,424.30 L326.80,423.60 L327.20,422.84 L327.60,422.04 L328.00,421.22 L328.40,420.40 L328.80,419.61 L329.20,418.87 L329.30,418.70 L329.61,418.15 L330.01,417.39 L330.41,416.59 L330.81,415.78 L331.21,414.98 L331.61,414.20 L332.01,413.46 L332.41,412.79 L332.81,412.19 L333.21,411.69 L333.40,411.50 L333.61,411.29 L334.01,410.91 L334.42,410.53 L334.82,410.18 L335.22,409.88 L335.62,409.64 L336.02,409.48 L336.42,409.40 L336.50,409.40 L336.82,409.48 L337.22,409.76 L337.62,410.22 L338.02,410.81 L338.42,411.50 L338.83,412.24 L339.23,413.00 L339.50,413.50 L339.63,413.74 L340.03,414.60 L340.43,415.60 L340.83,416.70 L341.23,417.86 L341.63,419.03 L342.03,420.19 L342.43,421.27 L342.60,421.70 L342.83,422.30 L343.24,423.36 L343.64,424.46 L344.04,425.53 L344.44,426.56 L344.84,427.49 L345.24,428.29 L345.64,428.92 L345.70,429.00 L346.04,429.42 L346.44,429.88 L346.84,430.30 L347.24,430.69 L347.64,431.05 L348.05,431.38 L348.45,431.67 L348.85,431.93 L349.25,432.15 L349.65,432.34 L349.80,432.40 L350.05,432.50 L350.45,432.64 L350.85,432.78 L351.25,432.91 L351.65,433.03 L352.05,433.14 L352.46,433.24 L352.86,433.33 L353.26,433.42 L353.66,433.50 L354.06,433.57 L354.46,433.63 L354.86,433.68 L355.00,433.70 L355.26,433.73 L355.66,433.77 L356.06,433.80 L356.46,433.83 L356.86,433.86 L357.27,433.88 L357.67,433.91 L358.07,433.93 L358.47,433.95 L358.87,433.98 L359.27,434.01 L359.67,434.05 L360.07,434.10 L360.10,434.10 L360.47,434.15 L360.87,434.21 L361.27,434.27 L361.68,434.35 L362.08,434.44 L362.48,434.54 L362.88,434.65 L363.28,434.77 L363.68,434.90 L364.08,435.05 L364.20,435.10 L364.48,435.27 L364.88,435.65 L365.28,436.16 L365.68,436.71 L366.09,437.26 L366.49,437.73 L366.89,438.07 L367.29,438.20 L367.30,438.20 L367.69,438.10 L368.09,437.81 L368.49,437.35 L368.89,436.75 L369.29,436.02 L369.30,436.00 L369.69,433.29 L370.09,426.74 L370.49,416.73 L370.90,403.62 L371.30,387.75 L371.70,369.48 L372.10,349.16 L372.50,327.15 L372.90,303.80 L373.31,335.58 L373.72,364.23 L374.13,389.85 L374.54,412.54 L374.95,432.41 L375.10,439.00 L375.36,449.25 L375.77,462.71 L375.80,463.60 L376.18,474.45 L376.59,484.92 L377.00,493.60 L377.40,484.60 L377.80,475.95 L378.20,467.62 L378.40,463.60 L378.60,459.42 L379.00,451.13 L379.40,444.70 L379.40,444.67 L379.80,440.43 L380.20,437.50 L380.20,437.48 L380.60,435.43 L381.00,433.94 L381.20,433.50 L381.40,433.16 L381.80,432.55 L382.21,432.02 L382.61,431.59 L383.01,431.27 L383.41,431.07 L383.80,431.00 L383.81,431.00 L384.21,431.23 L384.61,431.75 L385.01,432.37 L385.41,432.89 L385.80,433.10 L385.81,433.10 L386.21,433.06 L386.61,432.96 L387.01,432.81 L387.41,432.61 L387.81,432.39 L388.21,432.13 L388.61,431.87 L389.01,431.60 L389.41,431.35 L389.81,431.10 L390.00,431.00 L390.21,430.89 L390.61,430.67 L391.01,430.46 L391.41,430.24 L391.81,430.02 L392.21,429.80 L392.62,429.58 L393.02,429.35 L393.42,429.12 L393.82,428.88 L394.22,428.64 L394.62,428.38 L395.02,428.12 L395.42,427.86 L395.50,427.80 L395.82,427.58 L396.22,427.29 L396.62,426.99 L397.02,426.69 L397.42,426.37 L397.82,426.04 L398.22,425.71 L398.62,425.37 L399.02,425.02 L399.42,424.66 L399.82,424.30 L400.22,423.93 L400.62,423.56 L401.00,423.20 L401.02,423.18 L401.42,422.78 L401.82,422.37 L402.22,421.95 L402.62,421.51 L403.03,421.06 L403.43,420.61 L403.83,420.15 L404.23,419.70 L404.40,419.50 L404.63,419.24 L405.03,418.79 L405.43,418.33 L405.83,417.87 L406.23,417.40 L406.63,416.93 L407.03,416.46 L407.43,415.98 L407.83,415.50 L408.23,415.01 L408.40,414.80 L408.63,414.51 L409.03,414.00 L409.43,413.47 L409.83,412.92 L410.23,412.37 L410.63,411.82 L411.03,411.26 L411.43,410.71 L411.83,410.16 L412.23,409.63 L412.63,409.11 L413.03,408.61 L413.44,408.13 L413.84,407.68 L414.00,407.50 L414.24,407.25 L414.64,406.82 L415.04,406.39 L415.44,405.96 L415.84,405.53 L416.24,405.11 L416.64,404.70 L417.04,404.30 L417.44,403.92 L417.84,403.56 L418.24,403.22 L418.64,402.91 L419.04,402.63 L419.44,402.38 L419.84,402.16 L420.20,402.00 L420.24,401.98 L420.64,401.82 L421.04,401.66 L421.44,401.51 L421.84,401.36 L422.24,401.21 L422.64,401.07 L423.04,400.94 L423.44,400.81 L423.85,400.69 L424.25,400.58 L424.65,400.48 L425.05,400.39 L425.45,400.31 L425.85,400.24 L426.25,400.19 L426.65,400.14 L427.05,400.11 L427.45,400.10 L427.60,400.10 L427.85,400.13 L428.25,400.31 L428.65,400.63 L429.05,401.06 L429.45,401.59 L429.85,402.20 L430.25,402.86 L430.65,403.55 L431.05,404.25 L431.45,404.95 L431.60,405.20 L431.85,405.65 L432.25,406.47 L432.65,407.39 L433.05,408.39 L433.45,409.45 L433.85,410.54 L434.26,411.64 L434.66,412.72 L435.06,413.76 L435.46,414.74 L435.70,415.30 L435.86,415.65 L436.26,416.55 L436.66,417.46 L437.06,418.37 L437.46,419.26 L437.86,420.13 L438.26,420.95 L438.66,421.72 L439.06,422.42 L439.46,423.04 L439.80,423.50 L439.86,423.58 L440.26,424.06 L440.66,424.54 L441.06,424.99 L441.46,425.42 L441.86,425.84 L442.26,426.22 L442.66,426.58 L443.06,426.92 L443.46,427.22 L443.86,427.48 L444.26,427.71 L444.67,427.91 L444.90,428.00 L445.07,428.06 L445.47,428.21 L445.87,428.35 L446.27,428.49 L446.67,428.62 L447.07,428.74 L447.47,428.86 L447.87,428.98 L448.27,429.08 L448.67,429.18 L449.07,429.27 L449.47,429.35 L449.87,429.42 L450.27,429.48 L450.67,429.53 L451.07,429.56 L451.47,429.59 L451.87,429.60 L452.00,429.60 L452.27,429.60 L452.67,429.59 L453.07,429.58 L453.47,429.56 L453.87,429.54 L454.27,429.51 L454.67,429.47 L455.08,429.44 L455.48,429.40 L455.88,429.35 L456.28,429.30 L456.68,429.25 L457.08,429.20 L457.48,429.15 L457.88,429.09 L458.28,429.03 L458.68,428.97 L459.08,428.91 L459.48,428.85 L459.88,428.79 L460.28,428.73 L460.68,428.67 L461.08,428.62 L461.20,428.60 L461.48,428.56 L461.88,428.51 L462.28,428.45 L462.68,428.40 L463.08,428.34 L463.48,428.29 L463.88,428.23 L464.28,428.17 L464.68,428.10 L465.08,428.03 L465.49,427.96 L465.89,427.88 L466.29,427.79 L466.69,427.69 L467.09,427.58 L467.49,427.47 L467.89,427.34 L468.29,427.20 L468.30,427.20 L468.69,427.03 L469.09,426.80 L469.49,426.51 L469.89,426.16 L470.29,425.74 L470.69,425.27 L471.09,424.73 L471.49,424.12 L471.89,423.45 L472.29,422.71 L472.40,422.50 L472.69,421.67 L473.09,419.88 L473.49,417.71 L473.89,415.51 L474.29,413.68 L474.40,413.30 L474.69,412.30 L475.09,410.91 L475.49,409.65 L475.90,408.70 L476.30,408.22 L476.40,408.20 L476.70,408.28 L477.10,408.62 L477.50,409.16 L477.90,409.86 L478.30,410.66 L478.70,411.49 L479.10,412.30 L479.10,412.30 L479.50,413.16 L479.90,414.15 L480.30,415.24 L480.70,416.40" stroke="#258DDB" stroke-width="1.1"/>
</g>
<circle cx="110.2" cy="310.8" r="2.1" fill="#000"/>
<circle cx="250.3" cy="312.5" r="2.1" fill="#000"/>
<circle cx="391.4" cy="317.2" r="2.1" fill="#000"/>
<circle cx="91.3" cy="307.8" r="2.1" fill="#0000ff"/>
<circle cx="231.6" cy="310" r="2.1" fill="#0000ff"/>
<circle cx="372.9" cy="303.8" r="2.1" fill="#0000ff"/>
<rect x="32.5" y="277.5" width="448.2" height="224.60000000000002" fill="none" class="ax"/>
<line x1="93.1" y1="502.1" x2="93.1" y2="497.90000000000003" class="tk"/>
<line x1="93.1" y1="277.5" x2="93.1" y2="281.7" class="tk"/>
<line x1="193" y1="502.1" x2="193" y2="497.90000000000003" class="tk"/>
<line x1="193" y1="277.5" x2="193" y2="281.7" class="tk"/>
<line x1="292.9" y1="502.1" x2="292.9" y2="497.90000000000003" class="tk"/>
<line x1="292.9" y1="277.5" x2="292.9" y2="281.7" class="tk"/>
<line x1="392.7" y1="502.1" x2="392.7" y2="497.90000000000003" class="tk"/>
<line x1="392.7" y1="277.5" x2="392.7" y2="281.7" class="tk"/>
<line x1="32.5" y1="288.5" x2="36.7" y2="288.5" class="tk"/>
<line x1="480.7" y1="288.5" x2="476.5" y2="288.5" class="tk"/>
<line x1="32.5" y1="310.96" x2="36.7" y2="310.96" class="tk"/>
<line x1="480.7" y1="310.96" x2="476.5" y2="310.96" class="tk"/>
<line x1="32.5" y1="333.42" x2="36.7" y2="333.42" class="tk"/>
<line x1="480.7" y1="333.42" x2="476.5" y2="333.42" class="tk"/>
<line x1="32.5" y1="355.88" x2="36.7" y2="355.88" class="tk"/>
<line x1="480.7" y1="355.88" x2="476.5" y2="355.88" class="tk"/>
<line x1="32.5" y1="378.34000000000003" x2="36.7" y2="378.34000000000003" class="tk"/>
<line x1="480.7" y1="378.34000000000003" x2="476.5" y2="378.34000000000003" class="tk"/>
<line x1="32.5" y1="400.8" x2="36.7" y2="400.8" class="tk"/>
<line x1="480.7" y1="400.8" x2="476.5" y2="400.8" class="tk"/>
<line x1="32.5" y1="423.26" x2="36.7" y2="423.26" class="tk"/>
<line x1="480.7" y1="423.26" x2="476.5" y2="423.26" class="tk"/>
<line x1="32.5" y1="445.72" x2="36.7" y2="445.72" class="tk"/>
<line x1="480.7" y1="445.72" x2="476.5" y2="445.72" class="tk"/>
<line x1="32.5" y1="468.18" x2="36.7" y2="468.18" class="tk"/>
<line x1="480.7" y1="468.18" x2="476.5" y2="468.18" class="tk"/>
<line x1="32.5" y1="490.64" x2="36.7" y2="490.64" class="tk"/>
<line x1="480.7" y1="490.64" x2="476.5" y2="490.64" class="tk"/>
<text x="93.1" y="513.1" text-anchor="middle" class="t" style="font-size:7.9px">149.5</text>
<text x="193" y="513.1" text-anchor="middle" class="t" style="font-size:7.9px">150</text>
<text x="292.9" y="513.1" text-anchor="middle" class="t" style="font-size:7.9px">150.5</text>
<text x="392.7" y="513.1" text-anchor="middle" class="t" style="font-size:7.9px">151</text>
<text x="30.0" y="291.45" text-anchor="end" class="t" style="font-size:7.9px">1.2</text>
<text x="30.0" y="313.90999999999997" text-anchor="end" class="t" style="font-size:7.9px">1</text>
<text x="30.0" y="336.37" text-anchor="end" class="t" style="font-size:7.9px">0.8</text>
<text x="30.0" y="358.83" text-anchor="end" class="t" style="font-size:7.9px">0.6</text>
<text x="30.0" y="381.29" text-anchor="end" class="t" style="font-size:7.9px">0.4</text>
<text x="30.0" y="403.75" text-anchor="end" class="t" style="font-size:7.9px">0.2</text>
<text x="30.0" y="426.21" text-anchor="end" class="t" style="font-size:7.9px">0</text>
<text x="30.0" y="448.67" text-anchor="end" class="t" style="font-size:7.9px">-0.2</text>
<text x="30.0" y="471.13" text-anchor="end" class="t" style="font-size:7.9px">-0.4</text>
<text x="30.0" y="493.59" text-anchor="end" class="t" style="font-size:7.9px">-0.6</text>
<rect x="288.8" y="277.5" width="191.89999999999998" height="13.899999999999977" fill="#fff" stroke="#d2d2d2" stroke-width="0.8"/>
<line x1="290.4" y1="284.6" x2="301.2" y2="284.6" stroke="#F9622E" stroke-width="1.1"/>
<text x="303" y="287.6" textLength="15.2" lengthAdjust="spacingAndGlyphs" class="t" style="font-size:7.2px">NCC</text>
<line x1="321.6" y1="284.6" x2="332.2" y2="284.6" stroke="#050505" stroke-width="1.1"/>
<text x="334" y="287.6" textLength="15.4" lengthAdjust="spacingAndGlyphs" class="t" style="font-size:7.2px">SCG</text>
<circle cx="358.3" cy="284.6" r="1.75" fill="#000"/>
<text x="365.7" y="287.6" textLength="37.1" lengthAdjust="spacingAndGlyphs" class="t" style="font-size:7.2px">NCC-peaks</text>
<line x1="406.3" y1="284.6" x2="417.7" y2="284.6" stroke="#258DDB" stroke-width="1.1"/>
<text x="419.6" y="287.6" textLength="15.4" lengthAdjust="spacingAndGlyphs" class="t" style="font-size:7.2px">ECG</text>
<circle cx="444" cy="284.6" r="1.75" fill="#0000ff"/>
<text x="451" y="287.6" textLength="27.0" lengthAdjust="spacingAndGlyphs" class="t" style="font-size:7.2px">R-peaks</text>
<text x="238.2" y="524.9" textLength="33.4" lengthAdjust="spacingAndGlyphs" class="t" style="font-size:8.7px">Time [s]</text>
<text transform="translate(13.1,422.7) rotate(-90)" textLength="65.4" lengthAdjust="spacingAndGlyphs" class="t" style="font-size:8.7px">Amplitude [a.u.]</text>
<text x="244.3" y="543.8" text-anchor="middle" class="cap" style="font-size:10.6px">(<tspan font-weight="bold">b</tspan>)</text>
</svg>
</body></html>
